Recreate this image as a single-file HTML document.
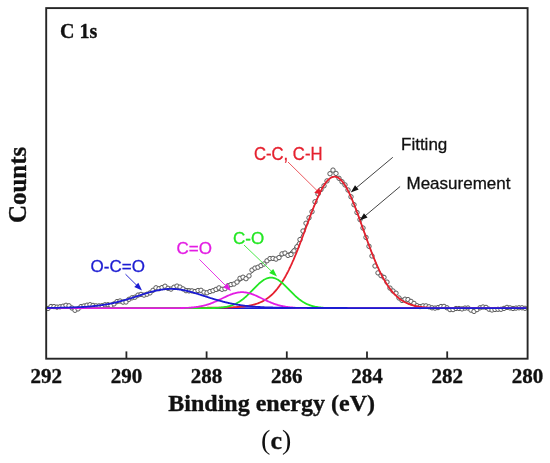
<!DOCTYPE html>
<html><head><meta charset="utf-8"><style>
html,body{margin:0;padding:0;background:#fff;}
body{width:550px;height:463px;overflow:hidden;}
svg{display:block;}
.ser{font-family:"Liberation Serif","Times New Roman",serif;font-weight:bold;fill:#111;stroke:#111;stroke-width:0.35px;}
.san{font-family:"Liberation Sans",Arial,sans-serif;stroke-width:0.3px;}
</style></head><body>
<svg width="550" height="463" viewBox="0 0 550 463">
<rect x="0" y="0" width="550" height="463" fill="#fff"/>
<polyline points="47.0,307.8 47.5,307.8 48.0,307.8 48.5,307.8 49.0,307.8 49.5,307.8 50.0,307.8 50.5,307.8 51.0,307.8 51.5,307.7 52.0,307.7 52.5,307.7 53.0,307.7 53.5,307.7 54.0,307.7 54.5,307.7 55.0,307.7 55.5,307.7 56.0,307.7 56.5,307.7 57.0,307.7 57.5,307.7 58.0,307.7 58.5,307.7 59.0,307.7 59.5,307.6 60.0,307.6 60.5,307.6 61.0,307.6 61.5,307.6 62.0,307.6 62.5,307.6 63.0,307.6 63.5,307.6 64.0,307.6 64.5,307.6 65.0,307.5 65.5,307.5 66.0,307.5 66.5,307.5 67.0,307.5 67.5,307.5 68.0,307.5 68.5,307.5 69.0,307.5 69.5,307.4 70.0,307.4 70.5,307.4 71.0,307.4 71.5,307.4 72.0,307.4 72.5,307.3 73.0,307.3 73.5,307.3 74.0,307.3 74.5,307.3 75.0,307.3 75.5,307.2 76.0,307.2 76.5,307.2 77.0,307.2 77.5,307.2 78.0,307.1 78.5,307.1 79.0,307.1 79.5,307.1 80.0,307.0 80.5,307.0 81.0,307.0 81.5,307.0 82.0,306.9 82.5,306.9 83.0,306.9 83.5,306.8 84.0,306.8 84.5,306.8 85.0,306.7 85.5,306.7 86.0,306.7 86.5,306.6 87.0,306.6 87.5,306.6 88.0,306.5 88.5,306.5 89.0,306.4 89.5,306.4 90.0,306.4 90.5,306.3 91.0,306.3 91.5,306.2 92.0,306.2 92.5,306.1 93.0,306.1 93.5,306.0 94.0,306.0 94.5,305.9 95.0,305.9 95.5,305.8 96.0,305.7 96.5,305.7 97.0,305.6 97.5,305.6 98.0,305.5 98.5,305.4 99.0,305.4 99.5,305.3 100.0,305.2 100.5,305.2 101.0,305.1 101.5,305.0 102.0,305.0 102.5,304.9 103.0,304.8 103.5,304.7 104.0,304.6 104.5,304.6 105.0,304.5 105.5,304.4 106.0,304.3 106.5,304.2 107.0,304.1 107.5,304.0 108.0,303.9 108.5,303.8 109.0,303.7 109.5,303.7 110.0,303.6 110.5,303.5 111.0,303.3 111.5,303.2 112.0,303.1 112.5,303.0 113.0,302.9 113.5,302.8 114.0,302.7 114.5,302.6 115.0,302.5 115.5,302.3 116.0,302.2 116.5,302.1 117.0,302.0 117.5,301.9 118.0,301.7 118.5,301.6 119.0,301.5 119.5,301.4 120.0,301.2 120.5,301.1 121.0,301.0 121.5,300.8 122.0,300.7 122.5,300.5 123.0,300.4 123.5,300.3 124.0,300.1 124.5,300.0 125.0,299.8 125.5,299.7 126.0,299.5 126.5,299.4 127.0,299.2 127.5,299.1 128.0,298.9 128.5,298.8 129.0,298.6 129.5,298.5 130.0,298.3 130.5,298.1 131.0,298.0 131.5,297.8 132.0,297.7 132.5,297.5 133.0,297.4 133.5,297.2 134.0,297.0 134.5,296.9 135.0,296.7 135.5,296.5 136.0,296.4 136.5,296.2 137.0,296.1 137.5,295.9 138.0,295.7 138.5,295.6 139.0,295.4 139.5,295.2 140.0,295.1 140.5,294.9 141.0,294.7 141.5,294.6 142.0,294.4 142.5,294.3 143.0,294.1 143.5,293.9 144.0,293.8 144.5,293.6 145.0,293.5 145.5,293.3 146.0,293.2 146.5,293.0 147.0,292.9 147.5,292.7 148.0,292.6 148.5,292.4 149.0,292.3 149.5,292.1 150.0,292.0 150.5,291.8 151.0,291.7 151.5,291.6 152.0,291.4 152.5,291.3 153.0,291.2 153.5,291.0 154.0,290.9 154.5,290.8 155.0,290.7 155.5,290.6 156.0,290.4 156.5,290.3 157.0,290.2 157.5,290.1 158.0,290.0 158.5,289.9 159.0,289.8 159.5,289.7 160.0,289.6 160.5,289.6 161.0,289.5 161.5,289.4 162.0,289.3 162.5,289.2 163.0,289.2 163.5,289.1 164.0,289.0 164.5,289.0 165.0,288.9 165.5,288.9 166.0,288.8 166.5,288.8 167.0,288.7 167.5,288.7 168.0,288.6 168.5,288.6 169.0,288.5 169.5,288.5 170.0,288.4 170.5,288.4 171.0,288.3 171.5,288.3 172.0,288.2 172.5,288.2 173.0,288.1 173.5,288.1 174.0,288.0 174.5,288.0 175.0,287.9 175.5,287.9 176.0,287.9 176.5,287.8 177.0,287.8 177.5,287.8 178.0,287.8 178.5,287.8 179.0,287.8 179.5,287.8 180.0,287.8 180.5,287.8 181.0,287.8 181.5,287.9 182.0,287.9 182.5,288.0 183.0,288.0 183.5,288.1 184.0,288.1 184.5,288.2 185.0,288.2 185.5,288.3 186.0,288.4 186.5,288.5 187.0,288.5 187.5,288.6 188.0,288.7 188.5,288.8 189.0,288.9 189.5,289.0 190.0,289.1 190.5,289.2 191.0,289.3 191.5,289.4 192.0,289.5 192.5,289.6 193.0,289.7 193.5,289.8 194.0,289.9 194.5,290.0 195.0,290.1 195.5,290.2 196.0,290.3 196.5,290.4 197.0,290.5 197.5,290.6 198.0,290.7 198.5,290.8 199.0,290.9 199.5,291.0 200.0,291.1 200.5,291.1 201.0,291.2 201.5,291.3 202.0,291.4 202.5,291.4 203.0,291.5 203.5,291.6 204.0,291.6 204.5,291.7 205.0,291.7 205.5,291.8 206.0,291.8 206.5,291.8 207.0,291.9 207.5,291.9 208.0,291.9 208.5,291.9 209.0,291.9 209.5,291.9 210.0,291.9 210.5,291.9 211.0,291.9 211.5,291.8 212.0,291.8 212.5,291.7 213.0,291.7 213.5,291.6 214.0,291.6 214.5,291.5 215.0,291.4 215.5,291.3 216.0,291.3 216.5,291.2 217.0,291.1 217.5,290.9 218.0,290.8 218.5,290.7 219.0,290.6 219.5,290.4 220.0,290.3 220.5,290.2 221.0,290.0 221.5,289.9 222.0,289.7 222.5,289.5 223.0,289.4 223.5,289.2 224.0,289.0 224.5,288.9 225.0,288.7 225.5,288.5 226.0,288.3 226.5,288.1 227.0,288.0 227.5,287.8 228.0,287.6 228.5,287.4 229.0,287.2 229.5,286.9 230.0,286.7 230.5,286.5 231.0,286.3 231.5,286.0 232.0,285.8 232.5,285.6 233.0,285.3 233.5,285.1 234.0,284.8 234.5,284.5 235.0,284.3 235.5,284.0 236.0,283.7 236.5,283.4 237.0,283.1 237.5,282.8 238.0,282.5 238.5,282.2 239.0,281.9 239.5,281.6 240.0,281.3 240.5,281.0 241.0,280.7 241.5,280.4 242.0,280.1 242.5,279.8 243.0,279.4 243.5,279.1 244.0,278.8 244.5,278.5 245.0,278.2 245.5,277.8 246.0,277.5 246.5,277.1 247.0,276.8 247.5,276.4 248.0,276.1 248.5,275.7 249.0,275.3 249.5,274.9 250.0,274.5 250.5,274.1 251.0,273.7 251.5,273.3 252.0,272.8 252.5,272.4 253.0,272.0 253.5,271.5 254.0,271.1 254.5,270.6 255.0,270.2 255.5,269.7 256.0,269.3 256.5,268.8 257.0,268.4 257.5,268.0 258.0,267.5 258.5,267.1 259.0,266.7 259.5,266.3 260.0,265.9 260.5,265.5 261.0,265.1 261.5,264.7 262.0,264.3 262.5,264.0 263.0,263.6 263.5,263.3 264.0,262.9 264.5,262.6 265.0,262.3 265.5,262.0 266.0,261.7 266.5,261.4 267.0,261.2 267.5,260.9 268.0,260.7 268.5,260.4 269.0,260.2 269.5,260.0 270.0,259.8 270.5,259.6 271.0,259.4 271.5,259.2 272.0,259.0 272.5,258.8 273.0,258.7 273.5,258.5 274.0,258.3 274.5,258.2 275.0,258.0 275.5,257.9 276.0,257.7 276.5,257.6 277.0,257.4 277.5,257.3 278.0,257.1 278.5,257.0 279.0,256.8 279.5,256.7 280.0,256.5 280.5,256.4 281.0,256.2 281.5,256.1 282.0,255.9 282.5,255.7 283.0,255.6 283.5,255.4 284.0,255.2 284.5,255.0 285.0,254.8 285.5,254.6 286.0,254.4 286.5,254.2 287.0,254.0 287.5,253.7 288.0,253.4 288.5,253.1 289.0,252.8 289.5,252.5 290.0,252.1 290.5,251.7 291.0,251.3 291.5,250.8 292.0,250.4 292.5,249.8 293.0,249.3 293.5,248.7 294.0,248.1 294.5,247.5 295.0,246.8 295.5,246.1 296.0,245.4 296.5,244.6 297.0,243.8 297.5,243.0 298.0,242.2 298.5,241.3 299.0,240.4 299.5,239.5 300.0,238.6 300.5,237.6 301.0,236.6 301.5,235.6 302.0,234.6 302.5,233.6 303.0,232.5 303.5,231.5 304.0,230.4 304.5,229.3 305.0,228.1 305.5,227.0 306.0,225.9 306.5,224.7 307.0,223.5 307.5,222.3 308.0,221.1 308.5,219.9 309.0,218.7 309.5,217.5 310.0,216.2 310.5,215.0 311.0,213.7 311.5,212.5 312.0,211.2 312.5,210.0 313.0,208.7 313.5,207.5 314.0,206.3 314.5,205.0 315.0,203.8 315.5,202.6 316.0,201.4 316.5,200.3 317.0,199.1 317.5,198.0 318.0,196.8 318.5,195.7 319.0,194.6 319.5,193.6 320.0,192.5 320.5,191.5 321.0,190.5 321.5,189.6 322.0,188.6 322.5,187.7 323.0,186.9 323.5,186.0 324.0,185.2 324.5,184.4 325.0,183.7 325.5,183.0 326.0,182.3 326.5,181.6 327.0,181.0 327.5,180.4 328.0,179.9 328.5,179.4 329.0,178.9 329.5,178.5 330.0,178.1 330.5,177.8 331.0,177.5 331.5,177.2 332.0,177.0 332.5,176.8 333.0,176.7 333.5,176.6 334.0,176.5 334.5,176.5 335.0,176.5 335.5,176.6 336.0,176.6 336.5,176.8 337.0,177.0 337.5,177.2 338.0,177.4 338.5,177.8 339.0,178.1 339.5,178.5 340.0,178.9 340.5,179.3 341.0,179.8 341.5,180.4 342.0,180.9 342.5,181.6 343.0,182.2 343.5,182.9 344.0,183.6 344.5,184.3 345.0,185.1 345.5,185.9 346.0,186.8 346.5,187.7 347.0,188.6 347.5,189.5 348.0,190.5 348.5,191.5 349.0,192.5 349.5,193.6 350.0,194.6 350.5,195.8 351.0,196.9 351.5,198.0 352.0,199.2 352.5,200.4 353.0,201.6 353.5,202.8 354.0,204.1 354.5,205.4 355.0,206.6 355.5,207.9 356.0,209.3 356.5,210.6 357.0,211.9 357.5,213.3 358.0,214.6 358.5,216.0 359.0,217.4 359.5,218.8 360.0,220.2 360.5,221.6 361.0,223.0 361.5,224.4 362.0,225.8 362.5,227.2 363.0,228.6 363.5,230.0 364.0,231.4 364.5,232.8 365.0,234.2 365.5,235.6 366.0,237.0 366.5,238.4 367.0,239.8 367.5,241.2 368.0,242.5 368.5,243.9 369.0,245.3 369.5,246.6 370.0,247.9 370.5,249.3 371.0,250.6 371.5,251.9 372.0,253.2 372.5,254.4 373.0,255.7 373.5,257.0 374.0,258.2 374.5,259.4 375.0,260.6 375.5,261.8 376.0,263.0 376.5,264.1 377.0,265.3 377.5,266.4 378.0,267.5 378.5,268.6 379.0,269.7 379.5,270.7 380.0,271.8 380.5,272.8 381.0,273.8 381.5,274.8 382.0,275.8 382.5,276.7 383.0,277.6 383.5,278.5 384.0,279.4 384.5,280.3 385.0,281.2 385.5,282.0 386.0,282.8 386.5,283.6 387.0,284.4 387.5,285.2 388.0,285.9 388.5,286.7 389.0,287.4 389.5,288.1 390.0,288.7 390.5,289.4 391.0,290.1 391.5,290.7 392.0,291.3 392.5,291.9 393.0,292.5 393.5,293.0 394.0,293.6 394.5,294.1 395.0,294.6 395.5,295.1 396.0,295.6 396.5,296.1 397.0,296.5 397.5,297.0 398.0,297.4 398.5,297.8 399.0,298.2 399.5,298.6 400.0,299.0 400.5,299.4 401.0,299.7 401.5,300.1 402.0,300.4 402.5,300.7 403.0,301.0 403.5,301.3 404.0,301.6 404.5,301.9 405.0,302.2 405.5,302.4 406.0,302.7 406.5,302.9 407.0,303.1 407.5,303.4 408.0,303.6 408.5,303.8 409.0,304.0 409.5,304.2 410.0,304.3 410.5,304.5 411.0,304.7 411.5,304.8 412.0,305.0 412.5,305.1 413.0,305.3 413.5,305.4 414.0,305.6 414.5,305.7 415.0,305.8 415.5,305.9 416.0,306.0 416.5,306.1 417.0,306.2 417.5,306.3 418.0,306.4 418.5,306.5 419.0,306.6 419.5,306.7 420.0,306.7 420.5,306.8 421.0,306.9 421.5,306.9 422.0,307.0 422.5,307.1 423.0,307.1 423.5,307.2 424.0,307.2 424.5,307.3 425.0,307.3 425.5,307.4 426.0,307.4 426.5,307.5 427.0,307.5 427.5,307.5 428.0,307.6 428.5,307.6 429.0,307.6 429.5,307.7 430.0,307.7 430.5,307.7 431.0,307.7 431.5,307.8 432.0,307.8 432.5,307.8 433.0,307.8 433.5,307.8 434.0,307.9 434.5,307.9 435.0,307.9 435.5,307.9 436.0,307.9 436.5,307.9 437.0,307.9 437.5,308.0 438.0,308.0 438.5,308.0 439.0,308.0 439.5,308.0 440.0,308.0 440.5,308.0 441.0,308.0 441.5,308.0 442.0,308.0 442.5,308.0 443.0,308.0 443.5,308.1 444.0,308.1 444.5,308.1 445.0,308.1 445.5,308.1 446.0,308.1 446.5,308.1 447.0,308.1 447.5,308.1 448.0,308.1 448.5,308.1 449.0,308.1 449.5,308.1 450.0,308.1 450.5,308.1 451.0,308.1 451.5,308.1 452.0,308.1 452.5,308.1 453.0,308.1 453.5,308.1 454.0,308.1 454.5,308.1 455.0,308.1 455.5,308.1 456.0,308.1 456.5,308.1 457.0,308.1 457.5,308.1 458.0,308.1 458.5,308.1 459.0,308.1 459.5,308.1 460.0,308.1 460.5,308.1 461.0,308.1 461.5,308.1 462.0,308.1 462.5,308.1 463.0,308.1 463.5,308.1 464.0,308.1 464.5,308.1 465.0,308.1 465.5,308.1 466.0,308.1 466.5,308.1 467.0,308.1 467.5,308.1 468.0,308.1 468.5,308.1 469.0,308.1 469.5,308.1 470.0,308.1 470.5,308.1 471.0,308.1 471.5,308.1 472.0,308.1 472.5,308.1 473.0,308.1 473.5,308.1 474.0,308.1 474.5,308.1 475.0,308.1 475.5,308.1 476.0,308.1 476.5,308.1 477.0,308.1 477.5,308.1 478.0,308.1 478.5,308.1 479.0,308.1 479.5,308.1 480.0,308.1 480.5,308.1 481.0,308.1 481.5,308.1 482.0,308.1 482.5,308.2 483.0,308.2 483.5,308.2 484.0,308.2 484.5,308.2 485.0,308.2 485.5,308.2 486.0,308.2 486.5,308.2 487.0,308.2 487.5,308.2 488.0,308.2 488.5,308.2 489.0,308.2 489.5,308.2 490.0,308.2 490.5,308.2 491.0,308.2 491.5,308.2 492.0,308.2 492.5,308.2 493.0,308.2 493.5,308.2 494.0,308.2 494.5,308.2 495.0,308.2 495.5,308.2 496.0,308.2 496.5,308.2 497.0,308.2 497.5,308.2 498.0,308.2 498.5,308.2 499.0,308.2 499.5,308.2 500.0,308.2 500.5,308.2 501.0,308.2 501.5,308.2 502.0,308.2 502.5,308.2 503.0,308.2 503.5,308.2 504.0,308.2 504.5,308.2 505.0,308.2 505.5,308.2 506.0,308.2 506.5,308.2 507.0,308.2 507.5,308.2 508.0,308.2 508.5,308.2 509.0,308.2 509.5,308.2 510.0,308.2 510.5,308.2 511.0,308.2 511.5,308.2 512.0,308.2 512.5,308.2 513.0,308.2 513.5,308.2 514.0,308.2 514.5,308.2 515.0,308.2 515.5,308.2 516.0,308.2 516.5,308.2 517.0,308.2 517.5,308.2 518.0,308.2 518.5,308.2 519.0,308.2 519.5,308.2 520.0,308.2 520.5,308.2 521.0,308.2 521.5,308.2 522.0,308.2 522.5,308.2 523.0,308.2 523.5,308.2 524.0,308.2 524.5,308.2 525.0,308.2 525.5,308.2 526.0,308.2 526.5,308.2" fill="none" stroke="#333" stroke-width="1.0"/>
<g fill="#fff" stroke="#5a5a5a" stroke-width="1.0"><circle cx="48.0" cy="308.5" r="2.2"/><circle cx="51.0" cy="306.5" r="2.2"/><circle cx="54.0" cy="306.6" r="2.2"/><circle cx="57.0" cy="307.1" r="2.2"/><circle cx="60.0" cy="306.8" r="2.2"/><circle cx="63.0" cy="306.2" r="2.2"/><circle cx="66.0" cy="305.3" r="2.2"/><circle cx="69.0" cy="305.8" r="2.2"/><circle cx="72.0" cy="308.0" r="2.2"/><circle cx="75.0" cy="310.3" r="2.2"/><circle cx="78.0" cy="308.9" r="2.2"/><circle cx="81.0" cy="306.6" r="2.2"/><circle cx="84.0" cy="306.0" r="2.2"/><circle cx="87.0" cy="305.2" r="2.2"/><circle cx="90.0" cy="304.7" r="2.2"/><circle cx="93.0" cy="305.4" r="2.2"/><circle cx="96.0" cy="305.9" r="2.2"/><circle cx="99.0" cy="305.9" r="2.2"/><circle cx="102.0" cy="305.7" r="2.2"/><circle cx="105.0" cy="304.8" r="2.2"/><circle cx="108.0" cy="304.7" r="2.2"/><circle cx="111.0" cy="305.4" r="2.2"/><circle cx="114.0" cy="303.9" r="2.2"/><circle cx="117.0" cy="301.6" r="2.2"/><circle cx="120.0" cy="301.0" r="2.2"/><circle cx="123.0" cy="302.1" r="2.2"/><circle cx="126.0" cy="302.0" r="2.2"/><circle cx="129.0" cy="299.3" r="2.2"/><circle cx="132.0" cy="297.8" r="2.2"/><circle cx="135.0" cy="297.2" r="2.2"/><circle cx="138.0" cy="295.1" r="2.2"/><circle cx="141.0" cy="294.4" r="2.2"/><circle cx="144.0" cy="295.1" r="2.2"/><circle cx="147.0" cy="294.2" r="2.2"/><circle cx="150.0" cy="292.9" r="2.2"/><circle cx="153.0" cy="290.3" r="2.2"/><circle cx="156.0" cy="287.8" r="2.2"/><circle cx="159.0" cy="288.7" r="2.2"/><circle cx="162.0" cy="287.6" r="2.2"/><circle cx="165.0" cy="286.2" r="2.2"/><circle cx="168.0" cy="288.3" r="2.2"/><circle cx="171.0" cy="289.1" r="2.2"/><circle cx="174.0" cy="287.2" r="2.2"/><circle cx="177.0" cy="286.1" r="2.2"/><circle cx="180.0" cy="287.1" r="2.2"/><circle cx="183.0" cy="288.9" r="2.2"/><circle cx="186.0" cy="290.7" r="2.2"/><circle cx="189.0" cy="290.9" r="2.2"/><circle cx="192.0" cy="290.9" r="2.2"/><circle cx="195.0" cy="291.5" r="2.2"/><circle cx="198.0" cy="290.5" r="2.2"/><circle cx="201.0" cy="290.3" r="2.2"/><circle cx="204.0" cy="292.2" r="2.2"/><circle cx="207.0" cy="292.8" r="2.2"/><circle cx="210.0" cy="291.5" r="2.2"/><circle cx="213.0" cy="290.7" r="2.2"/><circle cx="216.0" cy="289.4" r="2.2"/><circle cx="219.0" cy="287.9" r="2.2"/><circle cx="222.0" cy="289.3" r="2.2"/><circle cx="225.0" cy="288.7" r="2.2"/><circle cx="228.0" cy="285.7" r="2.2"/><circle cx="231.0" cy="284.6" r="2.2"/><circle cx="234.0" cy="284.0" r="2.2"/><circle cx="237.0" cy="282.1" r="2.2"/><circle cx="240.0" cy="278.3" r="2.2"/><circle cx="243.0" cy="277.2" r="2.2"/><circle cx="246.0" cy="278.7" r="2.2"/><circle cx="249.0" cy="275.9" r="2.2"/><circle cx="252.0" cy="270.1" r="2.2"/><circle cx="255.0" cy="268.1" r="2.2"/><circle cx="258.0" cy="267.2" r="2.2"/><circle cx="261.0" cy="265.6" r="2.2"/><circle cx="264.0" cy="264.0" r="2.2"/><circle cx="267.0" cy="260.8" r="2.2"/><circle cx="270.0" cy="258.6" r="2.2"/><circle cx="273.0" cy="258.4" r="2.2"/><circle cx="276.0" cy="259.1" r="2.2"/><circle cx="279.0" cy="257.6" r="2.2"/><circle cx="282.0" cy="253.9" r="2.2"/><circle cx="285.0" cy="253.1" r="2.2"/><circle cx="288.0" cy="255.4" r="2.2"/><circle cx="291.0" cy="254.5" r="2.2"/><circle cx="294.0" cy="250.9" r="2.2"/><circle cx="297.0" cy="246.7" r="2.2"/><circle cx="300.0" cy="239.6" r="2.2"/><circle cx="303.0" cy="231.0" r="2.2"/><circle cx="306.0" cy="223.2" r="2.2"/><circle cx="309.0" cy="217.8" r="2.2"/><circle cx="312.0" cy="211.7" r="2.2"/><circle cx="315.0" cy="201.8" r="2.2"/><circle cx="318.0" cy="194.0" r="2.2"/><circle cx="321.0" cy="189.5" r="2.2"/><circle cx="324.0" cy="185.8" r="2.2"/><circle cx="327.0" cy="180.9" r="2.2"/><circle cx="330.0" cy="173.7" r="2.2"/><circle cx="333.0" cy="170.1" r="2.2"/><circle cx="336.0" cy="173.4" r="2.2"/><circle cx="339.0" cy="178.3" r="2.2"/><circle cx="342.0" cy="181.7" r="2.2"/><circle cx="345.0" cy="184.9" r="2.2"/><circle cx="348.0" cy="190.0" r="2.2"/><circle cx="351.0" cy="196.8" r="2.2"/><circle cx="354.0" cy="204.7" r="2.2"/><circle cx="357.0" cy="212.5" r="2.2"/><circle cx="360.0" cy="219.6" r="2.2"/><circle cx="363.0" cy="228.0" r="2.2"/><circle cx="366.0" cy="237.4" r="2.2"/><circle cx="369.0" cy="246.3" r="2.2"/><circle cx="372.0" cy="256.0" r="2.2"/><circle cx="375.0" cy="266.0" r="2.2"/><circle cx="378.0" cy="272.9" r="2.2"/><circle cx="381.0" cy="275.6" r="2.2"/><circle cx="384.0" cy="277.4" r="2.2"/><circle cx="387.0" cy="282.1" r="2.2"/><circle cx="390.0" cy="288.1" r="2.2"/><circle cx="393.0" cy="291.0" r="2.2"/><circle cx="396.0" cy="293.2" r="2.2"/><circle cx="399.0" cy="298.0" r="2.2"/><circle cx="402.0" cy="300.4" r="2.2"/><circle cx="405.0" cy="299.2" r="2.2"/><circle cx="408.0" cy="299.6" r="2.2"/><circle cx="411.0" cy="301.4" r="2.2"/><circle cx="414.0" cy="303.4" r="2.2"/><circle cx="417.0" cy="305.7" r="2.2"/><circle cx="420.0" cy="306.6" r="2.2"/><circle cx="423.0" cy="305.9" r="2.2"/><circle cx="426.0" cy="305.9" r="2.2"/><circle cx="429.0" cy="306.8" r="2.2"/><circle cx="432.0" cy="307.8" r="2.2"/><circle cx="435.0" cy="308.1" r="2.2"/><circle cx="438.0" cy="307.6" r="2.2"/><circle cx="441.0" cy="306.5" r="2.2"/><circle cx="444.0" cy="306.4" r="2.2"/><circle cx="447.0" cy="307.8" r="2.2"/><circle cx="450.0" cy="309.6" r="2.2"/><circle cx="453.0" cy="309.6" r="2.2"/><circle cx="456.0" cy="308.5" r="2.2"/><circle cx="459.0" cy="308.5" r="2.2"/><circle cx="462.0" cy="308.9" r="2.2"/><circle cx="465.0" cy="308.1" r="2.2"/><circle cx="468.0" cy="308.0" r="2.2"/><circle cx="471.0" cy="310.1" r="2.2"/><circle cx="474.0" cy="311.4" r="2.2"/><circle cx="477.0" cy="309.6" r="2.2"/><circle cx="480.0" cy="307.8" r="2.2"/><circle cx="483.0" cy="307.0" r="2.2"/><circle cx="486.0" cy="307.4" r="2.2"/><circle cx="489.0" cy="309.2" r="2.2"/><circle cx="492.0" cy="310.0" r="2.2"/><circle cx="495.0" cy="309.5" r="2.2"/><circle cx="498.0" cy="309.3" r="2.2"/><circle cx="501.0" cy="309.3" r="2.2"/><circle cx="504.0" cy="308.4" r="2.2"/><circle cx="507.0" cy="307.4" r="2.2"/><circle cx="510.0" cy="307.9" r="2.2"/><circle cx="513.0" cy="308.5" r="2.2"/><circle cx="516.0" cy="308.1" r="2.2"/><circle cx="519.0" cy="307.8" r="2.2"/><circle cx="522.0" cy="307.8" r="2.2"/><circle cx="525.0" cy="308.3" r="2.2"/></g>
<line x1="47" y1="308.2" x2="527" y2="308.2" stroke="#1c1cd2" stroke-width="1.8"/>
<polyline points="47.0,308.1 47.5,308.1 48.0,308.1 48.5,308.1 49.0,308.1 49.5,308.1 50.0,308.1 50.5,308.1 51.0,308.1 51.5,308.1 52.0,308.1 52.5,308.1 53.0,308.1 53.5,308.1 54.0,308.1 54.5,308.1 55.0,308.1 55.5,308.1 56.0,308.1 56.5,308.1 57.0,308.1 57.5,308.1 58.0,308.1 58.5,308.1 59.0,308.1 59.5,308.1 60.0,308.1 60.5,308.1 61.0,308.1 61.5,308.1 62.0,308.1 62.5,308.1 63.0,308.1 63.5,308.1 64.0,308.1 64.5,308.1 65.0,308.1 65.5,308.1 66.0,308.1 66.5,308.1 67.0,308.1 67.5,308.1 68.0,308.1 68.5,308.1 69.0,308.1 69.5,308.1 70.0,308.1 70.5,308.1 71.0,308.1 71.5,308.1 72.0,308.1 72.5,308.1 73.0,308.1 73.5,308.1 74.0,308.1 74.5,308.1 75.0,308.1 75.5,308.1 76.0,308.1 76.5,308.1 77.0,308.1 77.5,308.1 78.0,308.1 78.5,308.1 79.0,308.1 79.5,308.1 80.0,308.1 80.5,308.1 81.0,308.1 81.5,308.1 82.0,308.1 82.5,308.1 83.0,308.1 83.5,308.1 84.0,308.1 84.5,308.1 85.0,308.1 85.5,308.1 86.0,308.1 86.5,308.1 87.0,308.1 87.5,308.1 88.0,308.1 88.5,308.1 89.0,308.1 89.5,308.1 90.0,308.1 90.5,308.1 91.0,308.1 91.5,308.1 92.0,308.1 92.5,308.1 93.0,308.1 93.5,308.1 94.0,308.1 94.5,308.1 95.0,308.1 95.5,308.1 96.0,308.1 96.5,308.1 97.0,308.1 97.5,308.1 98.0,308.1 98.5,308.1 99.0,308.1 99.5,308.1 100.0,308.1 100.5,308.1 101.0,308.1 101.5,308.1 102.0,308.1 102.5,308.1 103.0,308.1 103.5,308.1 104.0,308.1 104.5,308.1 105.0,308.1 105.5,308.1 106.0,308.1 106.5,308.1 107.0,308.1 107.5,308.1 108.0,308.1 108.5,308.1 109.0,308.1 109.5,308.1 110.0,308.1 110.5,308.1 111.0,308.1 111.5,308.0 112.0,308.0 112.5,308.0 113.0,308.0 113.5,308.0 114.0,308.0 114.5,308.0 115.0,308.0 115.5,308.0 116.0,308.0 116.5,308.0 117.0,308.0 117.5,308.0 118.0,308.0 118.5,308.0 119.0,308.0 119.5,308.0 120.0,308.0 120.5,308.0 121.0,308.0 121.5,308.0 122.0,308.0 122.5,308.0 123.0,308.0 123.5,308.0 124.0,308.0 124.5,308.0 125.0,308.0 125.5,308.0 126.0,308.0 126.5,308.0 127.0,308.0 127.5,308.0 128.0,308.0 128.5,308.0 129.0,308.0 129.5,308.0 130.0,308.0 130.5,308.0 131.0,308.0 131.5,308.0 132.0,308.0 132.5,308.0 133.0,308.0 133.5,308.0 134.0,308.0 134.5,308.0 135.0,308.0 135.5,308.0 136.0,308.0 136.5,308.0 137.0,308.0 137.5,308.0 138.0,308.0 138.5,308.0 139.0,308.0 139.5,308.0 140.0,308.0 140.5,308.0 141.0,308.0 141.5,308.0 142.0,308.0 142.5,308.0 143.0,308.0 143.5,308.0 144.0,308.0 144.5,308.0 145.0,308.0 145.5,308.0 146.0,308.0 146.5,308.0 147.0,308.0 147.5,308.0 148.0,308.0 148.5,308.0 149.0,308.0 149.5,308.0 150.0,308.0 150.5,308.0 151.0,308.0 151.5,308.0 152.0,308.0 152.5,308.0 153.0,308.0 153.5,308.0 154.0,308.0 154.5,308.0 155.0,308.0 155.5,308.0 156.0,308.0 156.5,308.0 157.0,308.0 157.5,308.0 158.0,308.0 158.5,308.0 159.0,308.0 159.5,308.0 160.0,308.0 160.5,308.0 161.0,308.0 161.5,308.0 162.0,308.0 162.5,308.0 163.0,307.9 163.5,307.9 164.0,307.9 164.5,307.9 165.0,307.9 165.5,307.9 166.0,307.9 166.5,307.9 167.0,307.9 167.5,307.9 168.0,307.9 168.5,307.9 169.0,307.9 169.5,307.9 170.0,307.9 170.5,307.9 171.0,307.9 171.5,307.9 172.0,307.9 172.5,307.9 173.0,307.9 173.5,307.9 174.0,307.9 174.5,307.9 175.0,307.9 175.5,307.9 176.0,307.9 176.5,307.9 177.0,307.9 177.5,307.9 178.0,307.9 178.5,307.9 179.0,307.9 179.5,307.9 180.0,307.9 180.5,307.9 181.0,307.9 181.5,307.9 182.0,307.9 182.5,307.9 183.0,307.9 183.5,307.9 184.0,307.9 184.5,307.9 185.0,307.9 185.5,307.9 186.0,307.9 186.5,307.9 187.0,307.9 187.5,307.9 188.0,307.9 188.5,307.9 189.0,307.9 189.5,307.9 190.0,307.9 190.5,307.8 191.0,307.8 191.5,307.8 192.0,307.8 192.5,307.8 193.0,307.8 193.5,307.8 194.0,307.8 194.5,307.8 195.0,307.8 195.5,307.8 196.0,307.8 196.5,307.8 197.0,307.8 197.5,307.8 198.0,307.8 198.5,307.8 199.0,307.8 199.5,307.8 200.0,307.8 200.5,307.8 201.0,307.8 201.5,307.8 202.0,307.8 202.5,307.8 203.0,307.8 203.5,307.8 204.0,307.8 204.5,307.8 205.0,307.8 205.5,307.8 206.0,307.8 206.5,307.8 207.0,307.8 207.5,307.7 208.0,307.7 208.5,307.7 209.0,307.7 209.5,307.7 210.0,307.7 210.5,307.7 211.0,307.7 211.5,307.7 212.0,307.7 212.5,307.7 213.0,307.7 213.5,307.7 214.0,307.7 214.5,307.7 215.0,307.7 215.5,307.7 216.0,307.7 216.5,307.7 217.0,307.7 217.5,307.6 218.0,307.6 218.5,307.6 219.0,307.6 219.5,307.6 220.0,307.6 220.5,307.6 221.0,307.6 221.5,307.6 222.0,307.6 222.5,307.6 223.0,307.6 223.5,307.6 224.0,307.5 224.5,307.5 225.0,307.5 225.5,307.5 226.0,307.5 226.5,307.5 227.0,307.5 227.5,307.5 228.0,307.4 228.5,307.4 229.0,307.4 229.5,307.4 230.0,307.4 230.5,307.4 231.0,307.3 231.5,307.3 232.0,307.3 232.5,307.3 233.0,307.3 233.5,307.2 234.0,307.2 234.5,307.2 235.0,307.2 235.5,307.1 236.0,307.1 236.5,307.1 237.0,307.0 237.5,307.0 238.0,307.0 238.5,306.9 239.0,306.9 239.5,306.9 240.0,306.8 240.5,306.8 241.0,306.7 241.5,306.7 242.0,306.6 242.5,306.6 243.0,306.5 243.5,306.5 244.0,306.4 244.5,306.4 245.0,306.3 245.5,306.2 246.0,306.2 246.5,306.1 247.0,306.0 247.5,306.0 248.0,305.9 248.5,305.8 249.0,305.7 249.5,305.6 250.0,305.5 250.5,305.4 251.0,305.3 251.5,305.2 252.0,305.1 252.5,305.0 253.0,304.8 253.5,304.7 254.0,304.6 254.5,304.4 255.0,304.3 255.5,304.1 256.0,304.0 256.5,303.8 257.0,303.7 257.5,303.5 258.0,303.3 258.5,303.1 259.0,302.9 259.5,302.7 260.0,302.5 260.5,302.3 261.0,302.0 261.5,301.8 262.0,301.6 262.5,301.3 263.0,301.1 263.5,300.8 264.0,300.5 264.5,300.2 265.0,299.9 265.5,299.6 266.0,299.3 266.5,299.0 267.0,298.6 267.5,298.3 268.0,297.9 268.5,297.5 269.0,297.1 269.5,296.7 270.0,296.3 270.5,295.9 271.0,295.5 271.5,295.0 272.0,294.5 272.5,294.1 273.0,293.6 273.5,293.1 274.0,292.5 274.5,292.0 275.0,291.5 275.5,290.9 276.0,290.3 276.5,289.7 277.0,289.1 277.5,288.5 278.0,287.8 278.5,287.2 279.0,286.5 279.5,285.8 280.0,285.1 280.5,284.4 281.0,283.7 281.5,282.9 282.0,282.1 282.5,281.3 283.0,280.5 283.5,279.7 284.0,278.9 284.5,278.0 285.0,277.2 285.5,276.3 286.0,275.4 286.5,274.4 287.0,273.5 287.5,272.5 288.0,271.6 288.5,270.6 289.0,269.6 289.5,268.5 290.0,267.5 290.5,266.4 291.0,265.4 291.5,264.3 292.0,263.2 292.5,262.0 293.0,260.9 293.5,259.8 294.0,258.6 294.5,257.4 295.0,256.2 295.5,255.0 296.0,253.8 296.5,252.6 297.0,251.3 297.5,250.1 298.0,248.8 298.5,247.5 299.0,246.2 299.5,244.9 300.0,243.6 300.5,242.3 301.0,241.0 301.5,239.7 302.0,238.3 302.5,237.0 303.0,235.7 303.5,234.3 304.0,233.0 304.5,231.6 305.0,230.2 305.5,228.9 306.0,227.5 306.5,226.2 307.0,224.8 307.5,223.4 308.0,222.1 308.5,220.7 309.0,219.4 309.5,218.0 310.0,216.7 310.5,215.4 311.0,214.0 311.5,212.7 312.0,211.4 312.5,210.1 313.0,208.8 313.5,207.6 314.0,206.3 314.5,205.1 315.0,203.8 315.5,202.6 316.0,201.4 316.5,200.3 317.0,199.1 317.5,198.0 318.0,196.8 318.5,195.7 319.0,194.7 319.5,193.6 320.0,192.6 320.5,191.6 321.0,190.6 321.5,189.7 322.0,188.7 322.5,187.8 323.0,187.0 323.5,186.2 324.0,185.4 324.5,184.6 325.0,183.8 325.5,183.1 326.0,182.5 326.5,181.8 327.0,181.2 327.5,180.7 328.0,180.1 328.5,179.6 329.0,179.2 329.5,178.8 330.0,178.4 330.5,178.0 331.0,177.7 331.5,177.5 332.0,177.2 332.5,177.1 333.0,176.9 333.5,176.8 334.0,176.7 334.5,176.7 335.0,176.7 335.5,176.8 336.0,176.9 336.5,177.0 337.0,177.2 337.5,177.4 338.0,177.6 338.5,177.9 339.0,178.3 339.5,178.7 340.0,179.1 340.5,179.5 341.0,180.0 341.5,180.6 342.0,181.1 342.5,181.7 343.0,182.4 343.5,183.0 344.0,183.8 344.5,184.5 345.0,185.3 345.5,186.1 346.0,186.9 346.5,187.8 347.0,188.7 347.5,189.7 348.0,190.6 348.5,191.6 349.0,192.7 349.5,193.7 350.0,194.8 350.5,195.9 351.0,197.0 351.5,198.2 352.0,199.3 352.5,200.5 353.0,201.8 353.5,203.0 354.0,204.2 354.5,205.5 355.0,206.8 355.5,208.1 356.0,209.4 356.5,210.7 357.0,212.1 357.5,213.4 358.0,214.8 358.5,216.1 359.0,217.5 359.5,218.9 360.0,220.3 360.5,221.7 361.0,223.1 361.5,224.5 362.0,225.9 362.5,227.3 363.0,228.7 363.5,230.1 364.0,231.5 364.5,232.9 365.0,234.3 365.5,235.7 366.0,237.1 366.5,238.5 367.0,239.9 367.5,241.3 368.0,242.7 368.5,244.0 369.0,245.4 369.5,246.7 370.0,248.1 370.5,249.4 371.0,250.7 371.5,252.0 372.0,253.3 372.5,254.6 373.0,255.8 373.5,257.1 374.0,258.3 374.5,259.5 375.0,260.7 375.5,261.9 376.0,263.1 376.5,264.3 377.0,265.4 377.5,266.5 378.0,267.6 378.5,268.7 379.0,269.8 379.5,270.8 380.0,271.9 380.5,272.9 381.0,273.9 381.5,274.9 382.0,275.9 382.5,276.8 383.0,277.7 383.5,278.6 384.0,279.5 384.5,280.4 385.0,281.3 385.5,282.1 386.0,282.9 386.5,283.7 387.0,284.5 387.5,285.3 388.0,286.0 388.5,286.8 389.0,287.5 389.5,288.2 390.0,288.8 390.5,289.5 391.0,290.2 391.5,290.8 392.0,291.4 392.5,292.0 393.0,292.6 393.5,293.1 394.0,293.7 394.5,294.2 395.0,294.7 395.5,295.2 396.0,295.7 396.5,296.2 397.0,296.6 397.5,297.1 398.0,297.5 398.5,297.9 399.0,298.3 399.5,298.7 400.0,299.1 400.5,299.5 401.0,299.8 401.5,300.2 402.0,300.5 402.5,300.8 403.0,301.1 403.5,301.4 404.0,301.7 404.5,302.0 405.0,302.2 405.5,302.5 406.0,302.7 406.5,303.0 407.0,303.2 407.5,303.4 408.0,303.6 408.5,303.9 409.0,304.0 409.5,304.2 410.0,304.4 410.5,304.6 411.0,304.8 411.5,304.9 412.0,305.1 412.5,305.2 413.0,305.4 413.5,305.5 414.0,305.6 414.5,305.8 415.0,305.9 415.5,306.0 416.0,306.1 416.5,306.2 417.0,306.3 417.5,306.4 418.0,306.5 418.5,306.6 419.0,306.7 419.5,306.7 420.0,306.8 420.5,306.9 421.0,307.0 421.5,307.0 422.0,307.1 422.5,307.1 423.0,307.2 423.5,307.3 424.0,307.3 424.5,307.4 425.0,307.4 425.5,307.4 426.0,307.5 426.5,307.5 427.0,307.6 427.5,307.6 428.0,307.6 428.5,307.7 429.0,307.7 429.5,307.7 430.0,307.8 430.5,307.8 431.0,307.8 431.5,307.8 432.0,307.8 432.5,307.9 433.0,307.9 433.5,307.9 434.0,307.9 434.5,307.9 435.0,308.0 435.5,308.0 436.0,308.0 436.5,308.0 437.0,308.0 437.5,308.0 438.0,308.0 438.5,308.0 439.0,308.1 439.5,308.1 440.0,308.1 440.5,308.1 441.0,308.1 441.5,308.1 442.0,308.1 442.5,308.1 443.0,308.1 443.5,308.1 444.0,308.1 444.5,308.1 445.0,308.1 445.5,308.1 446.0,308.1 446.5,308.1 447.0,308.2 447.5,308.2 448.0,308.2 448.5,308.2 449.0,308.2 449.5,308.2 450.0,308.2 450.5,308.2 451.0,308.2 451.5,308.2 452.0,308.2 452.5,308.2 453.0,308.2 453.5,308.2 454.0,308.2 454.5,308.2 455.0,308.2 455.5,308.2 456.0,308.2 456.5,308.2 457.0,308.2 457.5,308.2 458.0,308.2 458.5,308.2 459.0,308.2 459.5,308.2 460.0,308.2 460.5,308.2 461.0,308.2 461.5,308.2 462.0,308.2 462.5,308.2 463.0,308.2 463.5,308.2 464.0,308.2 464.5,308.2 465.0,308.2 465.5,308.2 466.0,308.2 466.5,308.2 467.0,308.2 467.5,308.2 468.0,308.2 468.5,308.2 469.0,308.2 469.5,308.2 470.0,308.2 470.5,308.2 471.0,308.2 471.5,308.2 472.0,308.2 472.5,308.2 473.0,308.2 473.5,308.2 474.0,308.2 474.5,308.2 475.0,308.2 475.5,308.2 476.0,308.2 476.5,308.2 477.0,308.2 477.5,308.2 478.0,308.2 478.5,308.2 479.0,308.2 479.5,308.2 480.0,308.2 480.5,308.2 481.0,308.2 481.5,308.2 482.0,308.2 482.5,308.2 483.0,308.2 483.5,308.2 484.0,308.2 484.5,308.2 485.0,308.2 485.5,308.2 486.0,308.2 486.5,308.2 487.0,308.2 487.5,308.2 488.0,308.2 488.5,308.2 489.0,308.2 489.5,308.2 490.0,308.2 490.5,308.2 491.0,308.2 491.5,308.2 492.0,308.2 492.5,308.2 493.0,308.2 493.5,308.2 494.0,308.2 494.5,308.2 495.0,308.2 495.5,308.2 496.0,308.2 496.5,308.2 497.0,308.2 497.5,308.2 498.0,308.2 498.5,308.2 499.0,308.2 499.5,308.2 500.0,308.2 500.5,308.2 501.0,308.2 501.5,308.2 502.0,308.2 502.5,308.2 503.0,308.2 503.5,308.2 504.0,308.2 504.5,308.2 505.0,308.2 505.5,308.2 506.0,308.2 506.5,308.2 507.0,308.2 507.5,308.2 508.0,308.2 508.5,308.2 509.0,308.2 509.5,308.2 510.0,308.2 510.5,308.2 511.0,308.2 511.5,308.2 512.0,308.2 512.5,308.2 513.0,308.2 513.5,308.2 514.0,308.2 514.5,308.2 515.0,308.2 515.5,308.2 516.0,308.2 516.5,308.2 517.0,308.2 517.5,308.2 518.0,308.2 518.5,308.2 519.0,308.2 519.5,308.2 520.0,308.2 520.5,308.2 521.0,308.2 521.5,308.2 522.0,308.2 522.5,308.2 523.0,308.2 523.5,308.2 524.0,308.2 524.5,308.2 525.0,308.2 525.5,308.2 526.0,308.2 526.5,308.2" fill="none" stroke="#e5202e" stroke-width="1.8" />
<polyline points="47.0,308.2 47.5,308.2 48.0,308.2 48.5,308.2 49.0,308.2 49.5,308.2 50.0,308.2 50.5,308.2 51.0,308.2 51.5,308.2 52.0,308.2 52.5,308.2 53.0,308.2 53.5,308.2 54.0,308.2 54.5,308.2 55.0,308.2 55.5,308.2 56.0,308.2 56.5,308.2 57.0,308.2 57.5,308.2 58.0,308.2 58.5,308.2 59.0,308.2 59.5,308.2 60.0,308.2 60.5,308.2 61.0,308.2 61.5,308.2 62.0,308.2 62.5,308.2 63.0,308.2 63.5,308.2 64.0,308.2 64.5,308.2 65.0,308.2 65.5,308.2 66.0,308.2 66.5,308.2 67.0,308.2 67.5,308.2 68.0,308.2 68.5,308.2 69.0,308.2 69.5,308.2 70.0,308.2 70.5,308.2 71.0,308.2 71.5,308.2 72.0,308.2 72.5,308.2 73.0,308.2 73.5,308.2 74.0,308.2 74.5,308.2 75.0,308.2 75.5,308.2 76.0,308.2 76.5,308.2 77.0,308.2 77.5,308.2 78.0,308.2 78.5,308.2 79.0,308.2 79.5,308.2 80.0,308.2 80.5,308.2 81.0,308.2 81.5,308.2 82.0,308.2 82.5,308.2 83.0,308.2 83.5,308.2 84.0,308.2 84.5,308.2 85.0,308.2 85.5,308.2 86.0,308.2 86.5,308.2 87.0,308.2 87.5,308.2 88.0,308.2 88.5,308.2 89.0,308.2 89.5,308.2 90.0,308.2 90.5,308.2 91.0,308.2 91.5,308.2 92.0,308.2 92.5,308.2 93.0,308.2 93.5,308.2 94.0,308.2 94.5,308.2 95.0,308.2 95.5,308.2 96.0,308.2 96.5,308.2 97.0,308.2 97.5,308.2 98.0,308.2 98.5,308.2 99.0,308.2 99.5,308.2 100.0,308.2 100.5,308.2 101.0,308.2 101.5,308.2 102.0,308.2 102.5,308.2 103.0,308.2 103.5,308.2 104.0,308.2 104.5,308.2 105.0,308.2 105.5,308.2 106.0,308.2 106.5,308.2 107.0,308.2 107.5,308.2 108.0,308.2 108.5,308.2 109.0,308.2 109.5,308.2 110.0,308.2 110.5,308.2 111.0,308.2 111.5,308.2 112.0,308.2 112.5,308.2 113.0,308.2 113.5,308.2 114.0,308.2 114.5,308.2 115.0,308.2 115.5,308.2 116.0,308.2 116.5,308.2 117.0,308.2 117.5,308.2 118.0,308.2 118.5,308.2 119.0,308.2 119.5,308.2 120.0,308.2 120.5,308.2 121.0,308.2 121.5,308.2 122.0,308.2 122.5,308.2 123.0,308.2 123.5,308.2 124.0,308.2 124.5,308.2 125.0,308.2 125.5,308.2 126.0,308.2 126.5,308.2 127.0,308.2 127.5,308.2 128.0,308.2 128.5,308.2 129.0,308.2 129.5,308.2 130.0,308.2 130.5,308.2 131.0,308.2 131.5,308.2 132.0,308.2 132.5,308.2 133.0,308.2 133.5,308.2 134.0,308.2 134.5,308.2 135.0,308.2 135.5,308.2 136.0,308.2 136.5,308.2 137.0,308.2 137.5,308.2 138.0,308.2 138.5,308.2 139.0,308.2 139.5,308.2 140.0,308.2 140.5,308.2 141.0,308.2 141.5,308.2 142.0,308.2 142.5,308.2 143.0,308.2 143.5,308.2 144.0,308.2 144.5,308.2 145.0,308.2 145.5,308.2 146.0,308.2 146.5,308.2 147.0,308.2 147.5,308.2 148.0,308.2 148.5,308.2 149.0,308.2 149.5,308.2 150.0,308.2 150.5,308.2 151.0,308.2 151.5,308.2 152.0,308.2 152.5,308.2 153.0,308.2 153.5,308.2 154.0,308.2 154.5,308.2 155.0,308.2 155.5,308.2 156.0,308.2 156.5,308.2 157.0,308.2 157.5,308.2 158.0,308.2 158.5,308.2 159.0,308.2 159.5,308.2 160.0,308.2 160.5,308.2 161.0,308.2 161.5,308.2 162.0,308.2 162.5,308.2 163.0,308.2 163.5,308.2 164.0,308.2 164.5,308.2 165.0,308.2 165.5,308.2 166.0,308.2 166.5,308.2 167.0,308.2 167.5,308.2 168.0,308.2 168.5,308.2 169.0,308.2 169.5,308.2 170.0,308.2 170.5,308.2 171.0,308.2 171.5,308.2 172.0,308.2 172.5,308.2 173.0,308.2 173.5,308.2 174.0,308.2 174.5,308.2 175.0,308.2 175.5,308.2 176.0,308.2 176.5,308.2 177.0,308.2 177.5,308.2 178.0,308.2 178.5,308.2 179.0,308.2 179.5,308.2 180.0,308.2 180.5,308.2 181.0,308.2 181.5,308.2 182.0,308.2 182.5,308.2 183.0,308.2 183.5,308.2 184.0,308.2 184.5,308.2 185.0,308.2 185.5,308.2 186.0,308.2 186.5,308.2 187.0,308.2 187.5,308.2 188.0,308.2 188.5,308.2 189.0,308.2 189.5,308.2 190.0,308.2 190.5,308.2 191.0,308.2 191.5,308.2 192.0,308.2 192.5,308.2 193.0,308.2 193.5,308.2 194.0,308.2 194.5,308.2 195.0,308.2 195.5,308.2 196.0,308.2 196.5,308.2 197.0,308.2 197.5,308.2 198.0,308.2 198.5,308.2 199.0,308.2 199.5,308.2 200.0,308.2 200.5,308.2 201.0,308.2 201.5,308.2 202.0,308.2 202.5,308.2 203.0,308.2 203.5,308.2 204.0,308.2 204.5,308.2 205.0,308.2 205.5,308.2 206.0,308.2 206.5,308.2 207.0,308.1 207.5,308.1 208.0,308.1 208.5,308.1 209.0,308.1 209.5,308.1 210.0,308.1 210.5,308.1 211.0,308.1 211.5,308.1 212.0,308.1 212.5,308.0 213.0,308.0 213.5,308.0 214.0,308.0 214.5,308.0 215.0,308.0 215.5,307.9 216.0,307.9 216.5,307.9 217.0,307.9 217.5,307.8 218.0,307.8 218.5,307.8 219.0,307.7 219.5,307.7 220.0,307.6 220.5,307.6 221.0,307.6 221.5,307.5 222.0,307.4 222.5,307.4 223.0,307.3 223.5,307.3 224.0,307.2 224.5,307.1 225.0,307.0 225.5,306.9 226.0,306.9 226.5,306.8 227.0,306.7 227.5,306.5 228.0,306.4 228.5,306.3 229.0,306.2 229.5,306.1 230.0,305.9 230.5,305.8 231.0,305.6 231.5,305.4 232.0,305.3 232.5,305.1 233.0,304.9 233.5,304.7 234.0,304.5 234.5,304.3 235.0,304.1 235.5,303.8 236.0,303.6 236.5,303.3 237.0,303.1 237.5,302.8 238.0,302.5 238.5,302.2 239.0,301.9 239.5,301.6 240.0,301.3 240.5,300.9 241.0,300.6 241.5,300.2 242.0,299.8 242.5,299.5 243.0,299.1 243.5,298.7 244.0,298.3 244.5,297.8 245.0,297.4 245.5,297.0 246.0,296.5 246.5,296.1 247.0,295.6 247.5,295.2 248.0,294.7 248.5,294.2 249.0,293.7 249.5,293.2 250.0,292.7 250.5,292.2 251.0,291.7 251.5,291.2 252.0,290.7 252.5,290.2 253.0,289.6 253.5,289.1 254.0,288.6 254.5,288.1 255.0,287.6 255.5,287.1 256.0,286.6 256.5,286.1 257.0,285.6 257.5,285.1 258.0,284.6 258.5,284.2 259.0,283.7 259.5,283.2 260.0,282.8 260.5,282.4 261.0,282.0 261.5,281.6 262.0,281.2 262.5,280.8 263.0,280.5 263.5,280.1 264.0,279.8 264.5,279.5 265.0,279.3 265.5,279.0 266.0,278.8 266.5,278.5 267.0,278.3 267.5,278.2 268.0,278.0 268.5,277.9 269.0,277.8 269.5,277.7 270.0,277.6 270.5,277.6 271.0,277.6 271.5,277.6 272.0,277.6 272.5,277.7 273.0,277.8 273.5,277.9 274.0,278.0 274.5,278.2 275.0,278.3 275.5,278.5 276.0,278.8 276.5,279.0 277.0,279.3 277.5,279.5 278.0,279.8 278.5,280.1 279.0,280.5 279.5,280.8 280.0,281.2 280.5,281.6 281.0,282.0 281.5,282.4 282.0,282.8 282.5,283.2 283.0,283.7 283.5,284.2 284.0,284.6 284.5,285.1 285.0,285.6 285.5,286.1 286.0,286.6 286.5,287.1 287.0,287.6 287.5,288.1 288.0,288.6 288.5,289.1 289.0,289.6 289.5,290.2 290.0,290.7 290.5,291.2 291.0,291.7 291.5,292.2 292.0,292.7 292.5,293.2 293.0,293.7 293.5,294.2 294.0,294.7 294.5,295.2 295.0,295.6 295.5,296.1 296.0,296.5 296.5,297.0 297.0,297.4 297.5,297.8 298.0,298.3 298.5,298.7 299.0,299.1 299.5,299.5 300.0,299.8 300.5,300.2 301.0,300.6 301.5,300.9 302.0,301.3 302.5,301.6 303.0,301.9 303.5,302.2 304.0,302.5 304.5,302.8 305.0,303.1 305.5,303.3 306.0,303.6 306.5,303.8 307.0,304.1 307.5,304.3 308.0,304.5 308.5,304.7 309.0,304.9 309.5,305.1 310.0,305.3 310.5,305.4 311.0,305.6 311.5,305.8 312.0,305.9 312.5,306.1 313.0,306.2 313.5,306.3 314.0,306.4 314.5,306.5 315.0,306.7 315.5,306.8 316.0,306.9 316.5,306.9 317.0,307.0 317.5,307.1 318.0,307.2 318.5,307.3 319.0,307.3 319.5,307.4 320.0,307.4 320.5,307.5 321.0,307.6 321.5,307.6 322.0,307.6 322.5,307.7 323.0,307.7 323.5,307.8 324.0,307.8 324.5,307.8 325.0,307.9 325.5,307.9 326.0,307.9 326.5,307.9 327.0,308.0 327.5,308.0 328.0,308.0 328.5,308.0 329.0,308.0 329.5,308.0 330.0,308.1 330.5,308.1 331.0,308.1 331.5,308.1 332.0,308.1 332.5,308.1 333.0,308.1 333.5,308.1 334.0,308.1 334.5,308.1 335.0,308.1 335.5,308.2 336.0,308.2 336.5,308.2 337.0,308.2 337.5,308.2 338.0,308.2 338.5,308.2 339.0,308.2 339.5,308.2 340.0,308.2 340.5,308.2 341.0,308.2 341.5,308.2 342.0,308.2 342.5,308.2 343.0,308.2 343.5,308.2 344.0,308.2 344.5,308.2 345.0,308.2 345.5,308.2 346.0,308.2 346.5,308.2 347.0,308.2 347.5,308.2 348.0,308.2 348.5,308.2 349.0,308.2 349.5,308.2 350.0,308.2 350.5,308.2 351.0,308.2 351.5,308.2 352.0,308.2 352.5,308.2 353.0,308.2 353.5,308.2 354.0,308.2 354.5,308.2 355.0,308.2 355.5,308.2 356.0,308.2 356.5,308.2 357.0,308.2 357.5,308.2 358.0,308.2 358.5,308.2 359.0,308.2 359.5,308.2 360.0,308.2 360.5,308.2 361.0,308.2 361.5,308.2 362.0,308.2 362.5,308.2 363.0,308.2 363.5,308.2 364.0,308.2 364.5,308.2 365.0,308.2 365.5,308.2 366.0,308.2 366.5,308.2 367.0,308.2 367.5,308.2 368.0,308.2 368.5,308.2 369.0,308.2 369.5,308.2 370.0,308.2 370.5,308.2 371.0,308.2 371.5,308.2 372.0,308.2 372.5,308.2 373.0,308.2 373.5,308.2 374.0,308.2 374.5,308.2 375.0,308.2 375.5,308.2 376.0,308.2 376.5,308.2 377.0,308.2 377.5,308.2 378.0,308.2 378.5,308.2 379.0,308.2 379.5,308.2 380.0,308.2 380.5,308.2 381.0,308.2 381.5,308.2 382.0,308.2 382.5,308.2 383.0,308.2 383.5,308.2 384.0,308.2 384.5,308.2 385.0,308.2 385.5,308.2 386.0,308.2 386.5,308.2 387.0,308.2 387.5,308.2 388.0,308.2 388.5,308.2 389.0,308.2 389.5,308.2 390.0,308.2 390.5,308.2 391.0,308.2 391.5,308.2 392.0,308.2 392.5,308.2 393.0,308.2 393.5,308.2 394.0,308.2 394.5,308.2 395.0,308.2 395.5,308.2 396.0,308.2 396.5,308.2 397.0,308.2 397.5,308.2 398.0,308.2 398.5,308.2 399.0,308.2 399.5,308.2 400.0,308.2 400.5,308.2 401.0,308.2 401.5,308.2 402.0,308.2 402.5,308.2 403.0,308.2 403.5,308.2 404.0,308.2 404.5,308.2 405.0,308.2 405.5,308.2 406.0,308.2 406.5,308.2 407.0,308.2 407.5,308.2 408.0,308.2 408.5,308.2 409.0,308.2 409.5,308.2 410.0,308.2 410.5,308.2 411.0,308.2 411.5,308.2 412.0,308.2 412.5,308.2 413.0,308.2 413.5,308.2 414.0,308.2 414.5,308.2 415.0,308.2 415.5,308.2 416.0,308.2 416.5,308.2 417.0,308.2 417.5,308.2 418.0,308.2 418.5,308.2 419.0,308.2 419.5,308.2 420.0,308.2 420.5,308.2 421.0,308.2 421.5,308.2 422.0,308.2 422.5,308.2 423.0,308.2 423.5,308.2 424.0,308.2 424.5,308.2 425.0,308.2 425.5,308.2 426.0,308.2 426.5,308.2 427.0,308.2 427.5,308.2 428.0,308.2 428.5,308.2 429.0,308.2 429.5,308.2 430.0,308.2 430.5,308.2 431.0,308.2 431.5,308.2 432.0,308.2 432.5,308.2 433.0,308.2 433.5,308.2 434.0,308.2 434.5,308.2 435.0,308.2 435.5,308.2 436.0,308.2 436.5,308.2 437.0,308.2 437.5,308.2 438.0,308.2 438.5,308.2 439.0,308.2 439.5,308.2 440.0,308.2 440.5,308.2 441.0,308.2 441.5,308.2 442.0,308.2 442.5,308.2 443.0,308.2 443.5,308.2 444.0,308.2 444.5,308.2 445.0,308.2 445.5,308.2 446.0,308.2 446.5,308.2 447.0,308.2 447.5,308.2 448.0,308.2 448.5,308.2 449.0,308.2 449.5,308.2 450.0,308.2 450.5,308.2 451.0,308.2 451.5,308.2 452.0,308.2 452.5,308.2 453.0,308.2 453.5,308.2 454.0,308.2 454.5,308.2 455.0,308.2 455.5,308.2 456.0,308.2 456.5,308.2 457.0,308.2 457.5,308.2 458.0,308.2 458.5,308.2 459.0,308.2 459.5,308.2 460.0,308.2 460.5,308.2 461.0,308.2 461.5,308.2 462.0,308.2 462.5,308.2 463.0,308.2 463.5,308.2 464.0,308.2 464.5,308.2 465.0,308.2 465.5,308.2 466.0,308.2 466.5,308.2 467.0,308.2 467.5,308.2 468.0,308.2 468.5,308.2 469.0,308.2 469.5,308.2 470.0,308.2 470.5,308.2 471.0,308.2 471.5,308.2 472.0,308.2 472.5,308.2 473.0,308.2 473.5,308.2 474.0,308.2 474.5,308.2 475.0,308.2 475.5,308.2 476.0,308.2 476.5,308.2 477.0,308.2 477.5,308.2 478.0,308.2 478.5,308.2 479.0,308.2 479.5,308.2 480.0,308.2 480.5,308.2 481.0,308.2 481.5,308.2 482.0,308.2 482.5,308.2 483.0,308.2 483.5,308.2 484.0,308.2 484.5,308.2 485.0,308.2 485.5,308.2 486.0,308.2 486.5,308.2 487.0,308.2 487.5,308.2 488.0,308.2 488.5,308.2 489.0,308.2 489.5,308.2 490.0,308.2 490.5,308.2 491.0,308.2 491.5,308.2 492.0,308.2 492.5,308.2 493.0,308.2 493.5,308.2 494.0,308.2 494.5,308.2 495.0,308.2 495.5,308.2 496.0,308.2 496.5,308.2 497.0,308.2 497.5,308.2 498.0,308.2 498.5,308.2 499.0,308.2 499.5,308.2 500.0,308.2 500.5,308.2 501.0,308.2 501.5,308.2 502.0,308.2 502.5,308.2 503.0,308.2 503.5,308.2 504.0,308.2 504.5,308.2 505.0,308.2 505.5,308.2 506.0,308.2 506.5,308.2 507.0,308.2 507.5,308.2 508.0,308.2 508.5,308.2 509.0,308.2 509.5,308.2 510.0,308.2 510.5,308.2 511.0,308.2 511.5,308.2 512.0,308.2 512.5,308.2 513.0,308.2 513.5,308.2 514.0,308.2 514.5,308.2 515.0,308.2 515.5,308.2 516.0,308.2 516.5,308.2 517.0,308.2 517.5,308.2 518.0,308.2 518.5,308.2 519.0,308.2 519.5,308.2 520.0,308.2 520.5,308.2 521.0,308.2 521.5,308.2 522.0,308.2 522.5,308.2 523.0,308.2 523.5,308.2 524.0,308.2 524.5,308.2 525.0,308.2 525.5,308.2 526.0,308.2 526.5,308.2" fill="none" stroke="#22e622" stroke-width="1.8" />
<polyline points="47.0,308.2 47.5,308.2 48.0,308.2 48.5,308.2 49.0,308.2 49.5,308.2 50.0,308.2 50.5,308.2 51.0,308.2 51.5,308.2 52.0,308.2 52.5,308.2 53.0,308.2 53.5,308.2 54.0,308.2 54.5,308.2 55.0,308.2 55.5,308.2 56.0,308.2 56.5,308.2 57.0,308.2 57.5,308.2 58.0,308.2 58.5,308.2 59.0,308.2 59.5,308.2 60.0,308.2 60.5,308.2 61.0,308.2 61.5,308.2 62.0,308.2 62.5,308.2 63.0,308.2 63.5,308.2 64.0,308.2 64.5,308.2 65.0,308.2 65.5,308.2 66.0,308.2 66.5,308.2 67.0,308.2 67.5,308.2 68.0,308.2 68.5,308.2 69.0,308.2 69.5,308.2 70.0,308.2 70.5,308.2 71.0,308.2 71.5,308.2 72.0,308.2 72.5,308.2 73.0,308.2 73.5,308.2 74.0,308.2 74.5,308.2 75.0,308.2 75.5,308.2 76.0,308.2 76.5,308.2 77.0,308.2 77.5,308.2 78.0,308.2 78.5,308.2 79.0,308.2 79.5,308.2 80.0,308.2 80.5,308.2 81.0,308.2 81.5,308.2 82.0,308.2 82.5,308.2 83.0,308.2 83.5,308.2 84.0,308.2 84.5,308.2 85.0,308.2 85.5,308.2 86.0,308.2 86.5,308.2 87.0,308.2 87.5,308.2 88.0,308.2 88.5,308.2 89.0,308.2 89.5,308.2 90.0,308.2 90.5,308.2 91.0,308.2 91.5,308.2 92.0,308.2 92.5,308.2 93.0,308.2 93.5,308.2 94.0,308.2 94.5,308.2 95.0,308.2 95.5,308.2 96.0,308.2 96.5,308.2 97.0,308.2 97.5,308.2 98.0,308.2 98.5,308.2 99.0,308.2 99.5,308.2 100.0,308.2 100.5,308.2 101.0,308.2 101.5,308.2 102.0,308.2 102.5,308.2 103.0,308.2 103.5,308.2 104.0,308.2 104.5,308.2 105.0,308.2 105.5,308.2 106.0,308.2 106.5,308.2 107.0,308.2 107.5,308.2 108.0,308.2 108.5,308.2 109.0,308.2 109.5,308.2 110.0,308.2 110.5,308.2 111.0,308.2 111.5,308.2 112.0,308.2 112.5,308.2 113.0,308.2 113.5,308.2 114.0,308.2 114.5,308.2 115.0,308.2 115.5,308.2 116.0,308.2 116.5,308.2 117.0,308.2 117.5,308.2 118.0,308.2 118.5,308.2 119.0,308.2 119.5,308.2 120.0,308.2 120.5,308.2 121.0,308.2 121.5,308.2 122.0,308.2 122.5,308.2 123.0,308.2 123.5,308.2 124.0,308.2 124.5,308.2 125.0,308.2 125.5,308.2 126.0,308.2 126.5,308.2 127.0,308.2 127.5,308.2 128.0,308.2 128.5,308.2 129.0,308.2 129.5,308.2 130.0,308.2 130.5,308.2 131.0,308.2 131.5,308.2 132.0,308.2 132.5,308.2 133.0,308.2 133.5,308.2 134.0,308.2 134.5,308.2 135.0,308.2 135.5,308.2 136.0,308.2 136.5,308.2 137.0,308.2 137.5,308.2 138.0,308.2 138.5,308.2 139.0,308.2 139.5,308.2 140.0,308.2 140.5,308.2 141.0,308.2 141.5,308.2 142.0,308.2 142.5,308.2 143.0,308.2 143.5,308.2 144.0,308.2 144.5,308.2 145.0,308.2 145.5,308.2 146.0,308.2 146.5,308.2 147.0,308.2 147.5,308.2 148.0,308.2 148.5,308.2 149.0,308.2 149.5,308.2 150.0,308.2 150.5,308.2 151.0,308.2 151.5,308.2 152.0,308.2 152.5,308.2 153.0,308.2 153.5,308.2 154.0,308.2 154.5,308.2 155.0,308.2 155.5,308.2 156.0,308.2 156.5,308.2 157.0,308.2 157.5,308.2 158.0,308.2 158.5,308.2 159.0,308.2 159.5,308.2 160.0,308.2 160.5,308.2 161.0,308.2 161.5,308.2 162.0,308.2 162.5,308.2 163.0,308.2 163.5,308.2 164.0,308.2 164.5,308.2 165.0,308.2 165.5,308.2 166.0,308.2 166.5,308.2 167.0,308.2 167.5,308.2 168.0,308.2 168.5,308.2 169.0,308.2 169.5,308.2 170.0,308.2 170.5,308.2 171.0,308.2 171.5,308.2 172.0,308.2 172.5,308.2 173.0,308.2 173.5,308.2 174.0,308.2 174.5,308.1 175.0,308.1 175.5,308.1 176.0,308.1 176.5,308.1 177.0,308.1 177.5,308.1 178.0,308.1 178.5,308.1 179.0,308.1 179.5,308.1 180.0,308.1 180.5,308.1 181.0,308.0 181.5,308.0 182.0,308.0 182.5,308.0 183.0,308.0 183.5,308.0 184.0,308.0 184.5,307.9 185.0,307.9 185.5,307.9 186.0,307.9 186.5,307.9 187.0,307.8 187.5,307.8 188.0,307.8 188.5,307.8 189.0,307.7 189.5,307.7 190.0,307.7 190.5,307.6 191.0,307.6 191.5,307.5 192.0,307.5 192.5,307.5 193.0,307.4 193.5,307.4 194.0,307.3 194.5,307.2 195.0,307.2 195.5,307.1 196.0,307.1 196.5,307.0 197.0,306.9 197.5,306.9 198.0,306.8 198.5,306.7 199.0,306.6 199.5,306.5 200.0,306.4 200.5,306.3 201.0,306.2 201.5,306.1 202.0,306.0 202.5,305.9 203.0,305.8 203.5,305.7 204.0,305.6 204.5,305.4 205.0,305.3 205.5,305.2 206.0,305.0 206.5,304.9 207.0,304.7 207.5,304.6 208.0,304.4 208.5,304.3 209.0,304.1 209.5,303.9 210.0,303.8 210.5,303.6 211.0,303.4 211.5,303.2 212.0,303.0 212.5,302.8 213.0,302.6 213.5,302.4 214.0,302.2 214.5,302.0 215.0,301.8 215.5,301.5 216.0,301.3 216.5,301.1 217.0,300.9 217.5,300.6 218.0,300.4 218.5,300.2 219.0,299.9 219.5,299.7 220.0,299.5 220.5,299.2 221.0,299.0 221.5,298.7 222.0,298.5 222.5,298.3 223.0,298.0 223.5,297.8 224.0,297.5 224.5,297.3 225.0,297.1 225.5,296.8 226.0,296.6 226.5,296.4 227.0,296.1 227.5,295.9 228.0,295.7 228.5,295.5 229.0,295.2 229.5,295.0 230.0,294.8 230.5,294.6 231.0,294.4 231.5,294.3 232.0,294.1 232.5,293.9 233.0,293.7 233.5,293.6 234.0,293.4 234.5,293.3 235.0,293.2 235.5,293.0 236.0,292.9 236.5,292.8 237.0,292.7 237.5,292.6 238.0,292.5 238.5,292.4 239.0,292.4 239.5,292.3 240.0,292.3 240.5,292.2 241.0,292.2 241.5,292.2 242.0,292.2 242.5,292.2 243.0,292.2 243.5,292.2 244.0,292.3 244.5,292.3 245.0,292.4 245.5,292.4 246.0,292.5 246.5,292.6 247.0,292.7 247.5,292.8 248.0,292.9 248.5,293.0 249.0,293.2 249.5,293.3 250.0,293.4 250.5,293.6 251.0,293.7 251.5,293.9 252.0,294.1 252.5,294.3 253.0,294.4 253.5,294.6 254.0,294.8 254.5,295.0 255.0,295.2 255.5,295.5 256.0,295.7 256.5,295.9 257.0,296.1 257.5,296.4 258.0,296.6 258.5,296.8 259.0,297.1 259.5,297.3 260.0,297.5 260.5,297.8 261.0,298.0 261.5,298.3 262.0,298.5 262.5,298.7 263.0,299.0 263.5,299.2 264.0,299.5 264.5,299.7 265.0,299.9 265.5,300.2 266.0,300.4 266.5,300.6 267.0,300.9 267.5,301.1 268.0,301.3 268.5,301.5 269.0,301.8 269.5,302.0 270.0,302.2 270.5,302.4 271.0,302.6 271.5,302.8 272.0,303.0 272.5,303.2 273.0,303.4 273.5,303.6 274.0,303.8 274.5,303.9 275.0,304.1 275.5,304.3 276.0,304.4 276.5,304.6 277.0,304.7 277.5,304.9 278.0,305.0 278.5,305.2 279.0,305.3 279.5,305.4 280.0,305.6 280.5,305.7 281.0,305.8 281.5,305.9 282.0,306.0 282.5,306.1 283.0,306.2 283.5,306.3 284.0,306.4 284.5,306.5 285.0,306.6 285.5,306.7 286.0,306.8 286.5,306.9 287.0,306.9 287.5,307.0 288.0,307.1 288.5,307.1 289.0,307.2 289.5,307.2 290.0,307.3 290.5,307.4 291.0,307.4 291.5,307.5 292.0,307.5 292.5,307.5 293.0,307.6 293.5,307.6 294.0,307.7 294.5,307.7 295.0,307.7 295.5,307.8 296.0,307.8 296.5,307.8 297.0,307.8 297.5,307.9 298.0,307.9 298.5,307.9 299.0,307.9 299.5,307.9 300.0,308.0 300.5,308.0 301.0,308.0 301.5,308.0 302.0,308.0 302.5,308.0 303.0,308.0 303.5,308.1 304.0,308.1 304.5,308.1 305.0,308.1 305.5,308.1 306.0,308.1 306.5,308.1 307.0,308.1 307.5,308.1 308.0,308.1 308.5,308.1 309.0,308.1 309.5,308.1 310.0,308.2 310.5,308.2 311.0,308.2 311.5,308.2 312.0,308.2 312.5,308.2 313.0,308.2 313.5,308.2 314.0,308.2 314.5,308.2 315.0,308.2 315.5,308.2 316.0,308.2 316.5,308.2 317.0,308.2 317.5,308.2 318.0,308.2 318.5,308.2 319.0,308.2 319.5,308.2 320.0,308.2 320.5,308.2 321.0,308.2 321.5,308.2 322.0,308.2 322.5,308.2 323.0,308.2 323.5,308.2 324.0,308.2 324.5,308.2 325.0,308.2 325.5,308.2 326.0,308.2 326.5,308.2 327.0,308.2 327.5,308.2 328.0,308.2 328.5,308.2 329.0,308.2 329.5,308.2 330.0,308.2 330.5,308.2 331.0,308.2 331.5,308.2 332.0,308.2 332.5,308.2 333.0,308.2 333.5,308.2 334.0,308.2 334.5,308.2 335.0,308.2 335.5,308.2 336.0,308.2 336.5,308.2 337.0,308.2 337.5,308.2 338.0,308.2 338.5,308.2 339.0,308.2 339.5,308.2 340.0,308.2 340.5,308.2 341.0,308.2 341.5,308.2 342.0,308.2 342.5,308.2 343.0,308.2 343.5,308.2 344.0,308.2 344.5,308.2 345.0,308.2 345.5,308.2 346.0,308.2 346.5,308.2 347.0,308.2 347.5,308.2 348.0,308.2 348.5,308.2 349.0,308.2 349.5,308.2 350.0,308.2 350.5,308.2 351.0,308.2 351.5,308.2 352.0,308.2 352.5,308.2 353.0,308.2 353.5,308.2 354.0,308.2 354.5,308.2 355.0,308.2 355.5,308.2 356.0,308.2 356.5,308.2 357.0,308.2 357.5,308.2 358.0,308.2 358.5,308.2 359.0,308.2 359.5,308.2 360.0,308.2 360.5,308.2 361.0,308.2 361.5,308.2 362.0,308.2 362.5,308.2 363.0,308.2 363.5,308.2 364.0,308.2 364.5,308.2 365.0,308.2 365.5,308.2 366.0,308.2 366.5,308.2 367.0,308.2 367.5,308.2 368.0,308.2 368.5,308.2 369.0,308.2 369.5,308.2 370.0,308.2 370.5,308.2 371.0,308.2 371.5,308.2 372.0,308.2 372.5,308.2 373.0,308.2 373.5,308.2 374.0,308.2 374.5,308.2 375.0,308.2 375.5,308.2 376.0,308.2 376.5,308.2 377.0,308.2 377.5,308.2 378.0,308.2 378.5,308.2 379.0,308.2 379.5,308.2 380.0,308.2 380.5,308.2 381.0,308.2 381.5,308.2 382.0,308.2 382.5,308.2 383.0,308.2 383.5,308.2 384.0,308.2 384.5,308.2 385.0,308.2 385.5,308.2 386.0,308.2 386.5,308.2 387.0,308.2 387.5,308.2 388.0,308.2 388.5,308.2 389.0,308.2 389.5,308.2 390.0,308.2 390.5,308.2 391.0,308.2 391.5,308.2 392.0,308.2 392.5,308.2 393.0,308.2 393.5,308.2 394.0,308.2 394.5,308.2 395.0,308.2 395.5,308.2 396.0,308.2 396.5,308.2 397.0,308.2 397.5,308.2 398.0,308.2 398.5,308.2 399.0,308.2 399.5,308.2 400.0,308.2 400.5,308.2 401.0,308.2 401.5,308.2 402.0,308.2 402.5,308.2 403.0,308.2 403.5,308.2 404.0,308.2 404.5,308.2 405.0,308.2 405.5,308.2 406.0,308.2 406.5,308.2 407.0,308.2 407.5,308.2 408.0,308.2 408.5,308.2 409.0,308.2 409.5,308.2 410.0,308.2 410.5,308.2 411.0,308.2 411.5,308.2 412.0,308.2 412.5,308.2 413.0,308.2 413.5,308.2 414.0,308.2 414.5,308.2 415.0,308.2 415.5,308.2 416.0,308.2 416.5,308.2 417.0,308.2 417.5,308.2 418.0,308.2 418.5,308.2 419.0,308.2 419.5,308.2 420.0,308.2 420.5,308.2 421.0,308.2 421.5,308.2 422.0,308.2 422.5,308.2 423.0,308.2 423.5,308.2 424.0,308.2 424.5,308.2 425.0,308.2 425.5,308.2 426.0,308.2 426.5,308.2 427.0,308.2 427.5,308.2 428.0,308.2 428.5,308.2 429.0,308.2 429.5,308.2 430.0,308.2 430.5,308.2 431.0,308.2 431.5,308.2 432.0,308.2 432.5,308.2 433.0,308.2 433.5,308.2 434.0,308.2 434.5,308.2 435.0,308.2 435.5,308.2 436.0,308.2 436.5,308.2 437.0,308.2 437.5,308.2 438.0,308.2 438.5,308.2 439.0,308.2 439.5,308.2 440.0,308.2 440.5,308.2 441.0,308.2 441.5,308.2 442.0,308.2 442.5,308.2 443.0,308.2 443.5,308.2 444.0,308.2 444.5,308.2 445.0,308.2 445.5,308.2 446.0,308.2 446.5,308.2 447.0,308.2 447.5,308.2 448.0,308.2 448.5,308.2 449.0,308.2 449.5,308.2 450.0,308.2 450.5,308.2 451.0,308.2 451.5,308.2 452.0,308.2 452.5,308.2 453.0,308.2 453.5,308.2 454.0,308.2 454.5,308.2 455.0,308.2 455.5,308.2 456.0,308.2 456.5,308.2 457.0,308.2 457.5,308.2 458.0,308.2 458.5,308.2 459.0,308.2 459.5,308.2 460.0,308.2 460.5,308.2 461.0,308.2 461.5,308.2 462.0,308.2 462.5,308.2 463.0,308.2 463.5,308.2 464.0,308.2 464.5,308.2 465.0,308.2 465.5,308.2 466.0,308.2 466.5,308.2 467.0,308.2 467.5,308.2 468.0,308.2 468.5,308.2 469.0,308.2 469.5,308.2 470.0,308.2 470.5,308.2 471.0,308.2 471.5,308.2 472.0,308.2 472.5,308.2 473.0,308.2 473.5,308.2 474.0,308.2 474.5,308.2 475.0,308.2 475.5,308.2 476.0,308.2 476.5,308.2 477.0,308.2 477.5,308.2 478.0,308.2 478.5,308.2 479.0,308.2 479.5,308.2 480.0,308.2 480.5,308.2 481.0,308.2 481.5,308.2 482.0,308.2 482.5,308.2 483.0,308.2 483.5,308.2 484.0,308.2 484.5,308.2 485.0,308.2 485.5,308.2 486.0,308.2 486.5,308.2 487.0,308.2 487.5,308.2 488.0,308.2 488.5,308.2 489.0,308.2 489.5,308.2 490.0,308.2 490.5,308.2 491.0,308.2 491.5,308.2 492.0,308.2 492.5,308.2 493.0,308.2 493.5,308.2 494.0,308.2 494.5,308.2 495.0,308.2 495.5,308.2 496.0,308.2 496.5,308.2 497.0,308.2 497.5,308.2 498.0,308.2 498.5,308.2 499.0,308.2 499.5,308.2 500.0,308.2 500.5,308.2 501.0,308.2 501.5,308.2 502.0,308.2 502.5,308.2 503.0,308.2 503.5,308.2 504.0,308.2 504.5,308.2 505.0,308.2 505.5,308.2 506.0,308.2 506.5,308.2 507.0,308.2 507.5,308.2 508.0,308.2 508.5,308.2 509.0,308.2 509.5,308.2 510.0,308.2 510.5,308.2 511.0,308.2 511.5,308.2 512.0,308.2 512.5,308.2 513.0,308.2 513.5,308.2 514.0,308.2 514.5,308.2 515.0,308.2 515.5,308.2 516.0,308.2 516.5,308.2 517.0,308.2 517.5,308.2 518.0,308.2 518.5,308.2 519.0,308.2 519.5,308.2 520.0,308.2 520.5,308.2 521.0,308.2 521.5,308.2 522.0,308.2 522.5,308.2 523.0,308.2 523.5,308.2 524.0,308.2 524.5,308.2 525.0,308.2 525.5,308.2 526.0,308.2 526.5,308.2" fill="none" stroke="#e31ce3" stroke-width="1.8" />
<polyline points="47.0,307.9 47.5,307.9 48.0,307.9 48.5,307.9 49.0,307.9 49.5,307.9 50.0,307.9 50.5,307.9 51.0,307.8 51.5,307.8 52.0,307.8 52.5,307.8 53.0,307.8 53.5,307.8 54.0,307.8 54.5,307.8 55.0,307.8 55.5,307.8 56.0,307.8 56.5,307.8 57.0,307.8 57.5,307.8 58.0,307.8 58.5,307.8 59.0,307.8 59.5,307.7 60.0,307.7 60.5,307.7 61.0,307.7 61.5,307.7 62.0,307.7 62.5,307.7 63.0,307.7 63.5,307.7 64.0,307.7 64.5,307.7 65.0,307.7 65.5,307.6 66.0,307.6 66.5,307.6 67.0,307.6 67.5,307.6 68.0,307.6 68.5,307.6 69.0,307.6 69.5,307.5 70.0,307.5 70.5,307.5 71.0,307.5 71.5,307.5 72.0,307.5 72.5,307.5 73.0,307.4 73.5,307.4 74.0,307.4 74.5,307.4 75.0,307.4 75.5,307.3 76.0,307.3 76.5,307.3 77.0,307.3 77.5,307.3 78.0,307.2 78.5,307.2 79.0,307.2 79.5,307.2 80.0,307.1 80.5,307.1 81.0,307.1 81.5,307.1 82.0,307.0 82.5,307.0 83.0,307.0 83.5,307.0 84.0,306.9 84.5,306.9 85.0,306.9 85.5,306.8 86.0,306.8 86.5,306.8 87.0,306.7 87.5,306.7 88.0,306.6 88.5,306.6 89.0,306.6 89.5,306.5 90.0,306.5 90.5,306.4 91.0,306.4 91.5,306.3 92.0,306.3 92.5,306.2 93.0,306.2 93.5,306.1 94.0,306.1 94.5,306.0 95.0,306.0 95.5,305.9 96.0,305.9 96.5,305.8 97.0,305.8 97.5,305.7 98.0,305.6 98.5,305.6 99.0,305.5 99.5,305.4 100.0,305.4 100.5,305.3 101.0,305.2 101.5,305.2 102.0,305.1 102.5,305.0 103.0,304.9 103.5,304.9 104.0,304.8 104.5,304.7 105.0,304.6 105.5,304.5 106.0,304.4 106.5,304.4 107.0,304.3 107.5,304.2 108.0,304.1 108.5,304.0 109.0,303.9 109.5,303.8 110.0,303.7 110.5,303.6 111.0,303.5 111.5,303.4 112.0,303.3 112.5,303.2 113.0,303.1 113.5,303.0 114.0,302.9 114.5,302.7 115.0,302.6 115.5,302.5 116.0,302.4 116.5,302.3 117.0,302.1 117.5,302.0 118.0,301.9 118.5,301.8 119.0,301.6 119.5,301.5 120.0,301.4 120.5,301.2 121.0,301.1 121.5,301.0 122.0,300.8 122.5,300.7 123.0,300.6 123.5,300.4 124.0,300.3 124.5,300.1 125.0,300.0 125.5,299.8 126.0,299.7 126.5,299.6 127.0,299.4 127.5,299.3 128.0,299.1 128.5,298.9 129.0,298.8 129.5,298.6 130.0,298.5 130.5,298.3 131.0,298.2 131.5,298.0 132.0,297.9 132.5,297.7 133.0,297.5 133.5,297.4 134.0,297.2 134.5,297.1 135.0,296.9 135.5,296.7 136.0,296.6 136.5,296.4 137.0,296.2 137.5,296.1 138.0,295.9 138.5,295.8 139.0,295.6 139.5,295.4 140.0,295.3 140.5,295.1 141.0,294.9 141.5,294.8 142.0,294.6 142.5,294.5 143.0,294.3 143.5,294.1 144.0,294.0 144.5,293.8 145.0,293.7 145.5,293.5 146.0,293.4 146.5,293.2 147.0,293.1 147.5,292.9 148.0,292.8 148.5,292.6 149.0,292.5 149.5,292.3 150.0,292.2 150.5,292.1 151.0,291.9 151.5,291.8 152.0,291.7 152.5,291.5 153.0,291.4 153.5,291.3 154.0,291.1 154.5,291.0 155.0,290.9 155.5,290.8 156.0,290.7 156.5,290.6 157.0,290.5 157.5,290.4 158.0,290.3 158.5,290.2 159.0,290.1 159.5,290.0 160.0,289.9 160.5,289.8 161.0,289.7 161.5,289.6 162.0,289.6 162.5,289.5 163.0,289.4 163.5,289.4 164.0,289.3 164.5,289.3 165.0,289.2 165.5,289.2 166.0,289.1 166.5,289.1 167.0,289.0 167.5,289.0 168.0,289.0 168.5,289.0 169.0,288.9 169.5,288.9 170.0,288.9 170.5,288.9 171.0,288.9 171.5,288.9 172.0,288.9 172.5,288.9 173.0,288.9 173.5,289.0 174.0,289.0 174.5,289.0 175.0,289.0 175.5,289.1 176.0,289.1 176.5,289.2 177.0,289.2 177.5,289.3 178.0,289.3 178.5,289.4 179.0,289.4 179.5,289.5 180.0,289.6 180.5,289.6 181.0,289.7 181.5,289.8 182.0,289.9 182.5,290.0 183.0,290.1 183.5,290.2 184.0,290.3 184.5,290.4 185.0,290.5 185.5,290.6 186.0,290.7 186.5,290.8 187.0,290.9 187.5,291.0 188.0,291.1 188.5,291.3 189.0,291.4 189.5,291.5 190.0,291.7 190.5,291.8 191.0,291.9 191.5,292.1 192.0,292.2 192.5,292.3 193.0,292.5 193.5,292.6 194.0,292.8 194.5,292.9 195.0,293.1 195.5,293.2 196.0,293.4 196.5,293.5 197.0,293.7 197.5,293.8 198.0,294.0 198.5,294.1 199.0,294.3 199.5,294.5 200.0,294.6 200.5,294.8 201.0,294.9 201.5,295.1 202.0,295.3 202.5,295.4 203.0,295.6 203.5,295.8 204.0,295.9 204.5,296.1 205.0,296.2 205.5,296.4 206.0,296.6 206.5,296.7 207.0,296.9 207.5,297.1 208.0,297.2 208.5,297.4 209.0,297.5 209.5,297.7 210.0,297.9 210.5,298.0 211.0,298.2 211.5,298.3 212.0,298.5 212.5,298.6 213.0,298.8 213.5,298.9 214.0,299.1 214.5,299.3 215.0,299.4 215.5,299.6 216.0,299.7 216.5,299.8 217.0,300.0 217.5,300.1 218.0,300.3 218.5,300.4 219.0,300.6 219.5,300.7 220.0,300.8 220.5,301.0 221.0,301.1 221.5,301.2 222.0,301.4 222.5,301.5 223.0,301.6 223.5,301.8 224.0,301.9 224.5,302.0 225.0,302.1 225.5,302.3 226.0,302.4 226.5,302.5 227.0,302.6 227.5,302.7 228.0,302.9 228.5,303.0 229.0,303.1 229.5,303.2 230.0,303.3 230.5,303.4 231.0,303.5 231.5,303.6 232.0,303.7 232.5,303.8 233.0,303.9 233.5,304.0 234.0,304.1 234.5,304.2 235.0,304.3 235.5,304.4 236.0,304.4 236.5,304.5 237.0,304.6 237.5,304.7 238.0,304.8 238.5,304.9 239.0,304.9 239.5,305.0 240.0,305.1 240.5,305.2 241.0,305.2 241.5,305.3 242.0,305.4 242.5,305.4 243.0,305.5 243.5,305.6 244.0,305.6 244.5,305.7 245.0,305.8 245.5,305.8 246.0,305.9 246.5,305.9 247.0,306.0 247.5,306.0 248.0,306.1 248.5,306.1 249.0,306.2 249.5,306.2 250.0,306.3 250.5,306.3 251.0,306.4 251.5,306.4 252.0,306.5 252.5,306.5 253.0,306.6 253.5,306.6 254.0,306.6 254.5,306.7 255.0,306.7 255.5,306.8 256.0,306.8 256.5,306.8 257.0,306.9 257.5,306.9 258.0,306.9 258.5,307.0 259.0,307.0 259.5,307.0 260.0,307.0 260.5,307.1 261.0,307.1 261.5,307.1 262.0,307.1 262.5,307.2 263.0,307.2 263.5,307.2 264.0,307.2 264.5,307.3 265.0,307.3 265.5,307.3 266.0,307.3 266.5,307.3 267.0,307.4 267.5,307.4 268.0,307.4 268.5,307.4 269.0,307.4 269.5,307.5 270.0,307.5 270.5,307.5 271.0,307.5 271.5,307.5 272.0,307.5 272.5,307.5 273.0,307.6 273.5,307.6 274.0,307.6 274.5,307.6 275.0,307.6 275.5,307.6 276.0,307.6 276.5,307.6 277.0,307.7 277.5,307.7 278.0,307.7 278.5,307.7 279.0,307.7 279.5,307.7 280.0,307.7 280.5,307.7 281.0,307.7 281.5,307.7 282.0,307.7 282.5,307.7 283.0,307.8 283.5,307.8 284.0,307.8 284.5,307.8 285.0,307.8 285.5,307.8 286.0,307.8 286.5,307.8 287.0,307.8 287.5,307.8 288.0,307.8 288.5,307.8 289.0,307.8 289.5,307.8 290.0,307.8 290.5,307.8 291.0,307.8 291.5,307.9 292.0,307.9 292.5,307.9 293.0,307.9 293.5,307.9 294.0,307.9 294.5,307.9 295.0,307.9 295.5,307.9 296.0,307.9 296.5,307.9 297.0,307.9 297.5,307.9 298.0,307.9 298.5,307.9 299.0,307.9 299.5,307.9 300.0,307.9 300.5,307.9 301.0,307.9 301.5,307.9 302.0,307.9 302.5,307.9 303.0,307.9 303.5,307.9 304.0,307.9 304.5,307.9 305.0,307.9 305.5,307.9 306.0,307.9 306.5,307.9 307.0,307.9 307.5,308.0 308.0,308.0 308.5,308.0 309.0,308.0 309.5,308.0 310.0,308.0 310.5,308.0 311.0,308.0 311.5,308.0 312.0,308.0 312.5,308.0 313.0,308.0 313.5,308.0 314.0,308.0 314.5,308.0 315.0,308.0 315.5,308.0 316.0,308.0 316.5,308.0 317.0,308.0 317.5,308.0 318.0,308.0 318.5,308.0 319.0,308.0 319.5,308.0 320.0,308.0 320.5,308.0 321.0,308.0 321.5,308.0 322.0,308.0 322.5,308.0 323.0,308.0 323.5,308.0 324.0,308.0 324.5,308.0 325.0,308.0 325.5,308.0 326.0,308.0 326.5,308.0 327.0,308.0 327.5,308.0 328.0,308.0 328.5,308.0 329.0,308.0 329.5,308.0 330.0,308.0 330.5,308.0 331.0,308.0 331.5,308.0 332.0,308.0 332.5,308.0 333.0,308.0 333.5,308.0 334.0,308.0 334.5,308.0 335.0,308.0 335.5,308.0 336.0,308.0 336.5,308.0 337.0,308.0 337.5,308.0 338.0,308.0 338.5,308.0 339.0,308.0 339.5,308.0 340.0,308.0 340.5,308.0 341.0,308.0 341.5,308.0 342.0,308.0 342.5,308.0 343.0,308.0 343.5,308.0 344.0,308.0 344.5,308.0 345.0,308.0 345.5,308.0 346.0,308.0 346.5,308.0 347.0,308.0 347.5,308.1 348.0,308.1 348.5,308.1 349.0,308.1 349.5,308.1 350.0,308.1 350.5,308.1 351.0,308.1 351.5,308.1 352.0,308.1 352.5,308.1 353.0,308.1 353.5,308.1 354.0,308.1 354.5,308.1 355.0,308.1 355.5,308.1 356.0,308.1 356.5,308.1 357.0,308.1 357.5,308.1 358.0,308.1 358.5,308.1 359.0,308.1 359.5,308.1 360.0,308.1 360.5,308.1 361.0,308.1 361.5,308.1 362.0,308.1 362.5,308.1 363.0,308.1 363.5,308.1 364.0,308.1 364.5,308.1 365.0,308.1 365.5,308.1 366.0,308.1 366.5,308.1 367.0,308.1 367.5,308.1 368.0,308.1 368.5,308.1 369.0,308.1 369.5,308.1 370.0,308.1 370.5,308.1 371.0,308.1 371.5,308.1 372.0,308.1 372.5,308.1 373.0,308.1 373.5,308.1 374.0,308.1 374.5,308.1 375.0,308.1 375.5,308.1 376.0,308.1 376.5,308.1 377.0,308.1 377.5,308.1 378.0,308.1 378.5,308.1 379.0,308.1 379.5,308.1 380.0,308.1 380.5,308.1 381.0,308.1 381.5,308.1 382.0,308.1 382.5,308.1 383.0,308.1 383.5,308.1 384.0,308.1 384.5,308.1 385.0,308.1 385.5,308.1 386.0,308.1 386.5,308.1 387.0,308.1 387.5,308.1 388.0,308.1 388.5,308.1 389.0,308.1 389.5,308.1 390.0,308.1 390.5,308.1 391.0,308.1 391.5,308.1 392.0,308.1 392.5,308.1 393.0,308.1 393.5,308.1 394.0,308.1 394.5,308.1 395.0,308.1 395.5,308.1 396.0,308.1 396.5,308.1 397.0,308.1 397.5,308.1 398.0,308.1 398.5,308.1 399.0,308.1 399.5,308.1 400.0,308.1 400.5,308.1 401.0,308.1 401.5,308.1 402.0,308.1 402.5,308.1 403.0,308.1 403.5,308.1 404.0,308.1 404.5,308.1 405.0,308.1 405.5,308.1 406.0,308.1 406.5,308.1 407.0,308.1 407.5,308.1 408.0,308.1 408.5,308.1 409.0,308.1 409.5,308.1 410.0,308.1 410.5,308.1 411.0,308.1 411.5,308.1 412.0,308.1 412.5,308.1 413.0,308.1 413.5,308.1 414.0,308.1 414.5,308.1 415.0,308.1 415.5,308.1 416.0,308.1 416.5,308.1 417.0,308.1 417.5,308.1 418.0,308.1 418.5,308.1 419.0,308.1 419.5,308.1 420.0,308.1 420.5,308.1 421.0,308.1 421.5,308.1 422.0,308.1 422.5,308.1 423.0,308.1 423.5,308.1 424.0,308.1 424.5,308.1 425.0,308.1 425.5,308.1 426.0,308.1 426.5,308.1 427.0,308.1 427.5,308.1 428.0,308.1 428.5,308.1 429.0,308.1 429.5,308.1 430.0,308.1 430.5,308.1 431.0,308.1 431.5,308.1 432.0,308.1 432.5,308.1 433.0,308.1 433.5,308.1 434.0,308.1 434.5,308.1 435.0,308.1 435.5,308.1 436.0,308.1 436.5,308.1 437.0,308.1 437.5,308.1 438.0,308.1 438.5,308.1 439.0,308.1 439.5,308.1 440.0,308.1 440.5,308.1 441.0,308.1 441.5,308.1 442.0,308.1 442.5,308.1 443.0,308.1 443.5,308.1 444.0,308.1 444.5,308.1 445.0,308.1 445.5,308.1 446.0,308.1 446.5,308.1 447.0,308.1 447.5,308.1 448.0,308.1 448.5,308.1 449.0,308.1 449.5,308.1 450.0,308.1 450.5,308.1 451.0,308.1 451.5,308.1 452.0,308.1 452.5,308.1 453.0,308.1 453.5,308.1 454.0,308.1 454.5,308.1 455.0,308.1 455.5,308.1 456.0,308.1 456.5,308.1 457.0,308.1 457.5,308.1 458.0,308.1 458.5,308.1 459.0,308.1 459.5,308.1 460.0,308.1 460.5,308.1 461.0,308.1 461.5,308.1 462.0,308.1 462.5,308.1 463.0,308.1 463.5,308.1 464.0,308.1 464.5,308.1 465.0,308.1 465.5,308.1 466.0,308.1 466.5,308.1 467.0,308.1 467.5,308.1 468.0,308.1 468.5,308.1 469.0,308.1 469.5,308.1 470.0,308.1 470.5,308.1 471.0,308.1 471.5,308.1 472.0,308.1 472.5,308.1 473.0,308.1 473.5,308.1 474.0,308.1 474.5,308.1 475.0,308.1 475.5,308.1 476.0,308.1 476.5,308.1 477.0,308.1 477.5,308.1 478.0,308.1 478.5,308.1 479.0,308.1 479.5,308.1 480.0,308.1 480.5,308.1 481.0,308.1 481.5,308.1 482.0,308.2 482.5,308.2 483.0,308.2 483.5,308.2 484.0,308.2 484.5,308.2 485.0,308.2 485.5,308.2 486.0,308.2 486.5,308.2 487.0,308.2 487.5,308.2 488.0,308.2 488.5,308.2 489.0,308.2 489.5,308.2 490.0,308.2 490.5,308.2 491.0,308.2 491.5,308.2 492.0,308.2 492.5,308.2 493.0,308.2 493.5,308.2 494.0,308.2 494.5,308.2 495.0,308.2 495.5,308.2 496.0,308.2 496.5,308.2 497.0,308.2 497.5,308.2 498.0,308.2 498.5,308.2 499.0,308.2 499.5,308.2 500.0,308.2 500.5,308.2 501.0,308.2 501.5,308.2 502.0,308.2 502.5,308.2 503.0,308.2 503.5,308.2 504.0,308.2 504.5,308.2 505.0,308.2 505.5,308.2 506.0,308.2 506.5,308.2 507.0,308.2 507.5,308.2 508.0,308.2 508.5,308.2 509.0,308.2 509.5,308.2 510.0,308.2 510.5,308.2 511.0,308.2 511.5,308.2 512.0,308.2 512.5,308.2 513.0,308.2 513.5,308.2 514.0,308.2 514.5,308.2 515.0,308.2 515.5,308.2 516.0,308.2 516.5,308.2 517.0,308.2 517.5,308.2 518.0,308.2 518.5,308.2 519.0,308.2 519.5,308.2 520.0,308.2 520.5,308.2 521.0,308.2 521.5,308.2 522.0,308.2 522.5,308.2 523.0,308.2 523.5,308.2 524.0,308.2 524.5,308.2 525.0,308.2 525.5,308.2 526.0,308.2 526.5,308.2" fill="none" stroke="#1c1cd2" stroke-width="1.8" />
<!-- frame -->
<rect x="46.2" y="8.1" width="481.4" height="350.6" fill="none" stroke="#262626" stroke-width="1.9"/>
<g stroke="#262626" stroke-width="1.8">
<line x1="126.4" y1="351.4" x2="126.4" y2="358"/>
<line x1="206.6" y1="351.4" x2="206.6" y2="358"/>
<line x1="286.8" y1="351.4" x2="286.8" y2="358"/>
<line x1="367.0" y1="351.4" x2="367.0" y2="358"/>
<line x1="447.2" y1="351.4" x2="447.2" y2="358"/>
</g>
<g class="ser" font-size="21" text-anchor="middle">
<text x="46.2" y="383">292</text>
<text x="126.4" y="383">290</text>
<text x="206.6" y="383">288</text>
<text x="286.8" y="383">286</text>
<text x="367.0" y="383">284</text>
<text x="447.2" y="383">282</text>
<text x="527.6" y="383">280</text>
</g>
<text class="ser" x="168.3" y="411" font-size="24">Binding energy (eV)</text>
<text class="ser" x="0" y="0" font-size="25" transform="translate(25.8,223.1) rotate(-90)">Counts</text>
<text class="ser" x="60" y="38.4" font-size="20">C 1s</text>
<text x="276.2" y="449" font-size="28" text-anchor="middle" style="font-family:'Liberation Serif',serif;fill:#111">(<tspan font-size="26" font-weight="bold" stroke="#111" stroke-width="0.3">c</tspan>)</text>
<!-- labels -->
<g class="san" font-size="17">
<text x="254" y="159.5" font-size="18" textLength="68.5" lengthAdjust="spacingAndGlyphs" fill="#e5202e" stroke="#e5202e">C-C, C-H</text>
<text x="233" y="243.8" fill="#22e622" stroke="#22e622">C-O</text>
<text x="176.5" y="254.4" fill="#e31ce3" stroke="#e31ce3">C=O</text>
<text x="90.6" y="272.4" fill="#1c1cd2" stroke="#1c1cd2">O-C=O</text>
<text x="401" y="149.5" fill="#111" stroke="#111">Fitting</text>
<text x="406.5" y="188.7" fill="#111" stroke="#111">Measurement</text>
</g>
<!-- arrows -->
<line x1="288" y1="162" x2="317.44" y2="190.99" stroke="#ec5a60" stroke-width="1"/>
<polygon points="321,194.5 314.27,192.78 319.18,187.80" fill="#e5202e"/>
<line x1="244" y1="245" x2="271.94" y2="271.67" stroke="#4be84b" stroke-width="1"/>
<polygon points="277,276.5 269.21,273.07 273.22,268.88" fill="#22e622"/>
<line x1="199.4" y1="259.4" x2="226.05" y2="286.05" stroke="#e63ae6" stroke-width="1"/>
<polygon points="231,291 223.29,287.39 227.39,283.29" fill="#e31ce3"/>
<line x1="125.5" y1="274.2" x2="137.02" y2="285.58" stroke="#2a2ad5" stroke-width="1"/>
<polygon points="142,290.5 134.27,286.94 138.35,282.81" fill="#1c1cd2"/>
<line x1="392.8" y1="157.3" x2="356.07" y2="188.01" stroke="#444" stroke-width="1"/>
<polygon points="350.7,192.5 355.04,185.22 358.63,189.52" fill="#111"/>
<line x1="400.1" y1="186.5" x2="364.96" y2="216.00" stroke="#444" stroke-width="1"/>
<polygon points="359.6,220.5 363.93,213.21 367.53,217.50" fill="#111"/>
</svg>
</body></html>
